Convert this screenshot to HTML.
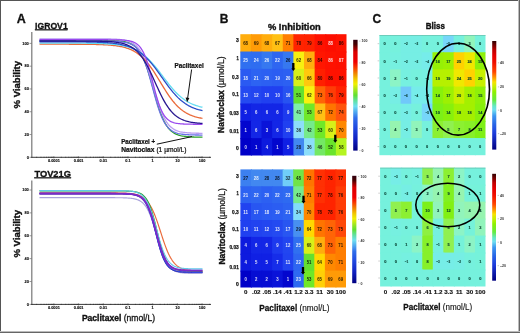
<!DOCTYPE html>
<html><head><meta charset="utf-8"><title>Figure</title>
<style>html,body{margin:0;padding:0;background:#fff;}svg{display:block;}</style></head>
<body><svg width="520" height="333" viewBox="0 0 520 333">
<defs><linearGradient id="cbB1" x1="0" y1="0" x2="0" y2="1"><stop offset="0.000" stop-color="#300010"/><stop offset="0.040" stop-color="#460000"/><stop offset="0.065" stop-color="#800000"/><stop offset="0.110" stop-color="#dc0000"/><stop offset="0.200" stop-color="#f00000"/><stop offset="0.255" stop-color="#f84000"/><stop offset="0.300" stop-color="#f08000"/><stop offset="0.354" stop-color="#f0c800"/><stop offset="0.399" stop-color="#f0f000"/><stop offset="0.453" stop-color="#a0e620"/><stop offset="0.500" stop-color="#60e030"/><stop offset="0.550" stop-color="#60e0a0"/><stop offset="0.600" stop-color="#6ee0f0"/><stop offset="0.650" stop-color="#50aaf0"/><stop offset="0.705" stop-color="#306eeb"/><stop offset="0.795" stop-color="#2048e0"/><stop offset="0.900" stop-color="#1020c0"/><stop offset="1.000" stop-color="#000080"/></linearGradient>
<linearGradient id="cbB2" x1="0" y1="0" x2="0" y2="1"><stop offset="0.000" stop-color="#300010"/><stop offset="0.040" stop-color="#460000"/><stop offset="0.065" stop-color="#800000"/><stop offset="0.110" stop-color="#dc0000"/><stop offset="0.200" stop-color="#f00000"/><stop offset="0.255" stop-color="#f84000"/><stop offset="0.300" stop-color="#f08000"/><stop offset="0.354" stop-color="#f0c800"/><stop offset="0.399" stop-color="#f0f000"/><stop offset="0.453" stop-color="#a0e620"/><stop offset="0.500" stop-color="#60e030"/><stop offset="0.550" stop-color="#60e0a0"/><stop offset="0.600" stop-color="#6ee0f0"/><stop offset="0.650" stop-color="#50aaf0"/><stop offset="0.705" stop-color="#306eeb"/><stop offset="0.795" stop-color="#2048e0"/><stop offset="0.900" stop-color="#1020c0"/><stop offset="1.000" stop-color="#000080"/></linearGradient>
<linearGradient id="cbC1" x1="0" y1="0" x2="0" y2="1"><stop offset="0.000" stop-color="#300000"/><stop offset="0.037" stop-color="#700000"/><stop offset="0.083" stop-color="#c00000"/><stop offset="0.138" stop-color="#e60000"/><stop offset="0.200" stop-color="#f01000"/><stop offset="0.285" stop-color="#ff4600"/><stop offset="0.330" stop-color="#ff8c00"/><stop offset="0.378" stop-color="#f8e000"/><stop offset="0.420" stop-color="#c8f000"/><stop offset="0.470" stop-color="#8cf000"/><stop offset="0.545" stop-color="#64eb40"/><stop offset="0.600" stop-color="#64e8c8"/><stop offset="0.635" stop-color="#6edef0"/><stop offset="0.690" stop-color="#3c96f0"/><stop offset="0.770" stop-color="#2864e6"/><stop offset="0.850" stop-color="#1e3cdc"/><stop offset="1.000" stop-color="#000080"/></linearGradient>
<linearGradient id="cbC2" x1="0" y1="0" x2="0" y2="1"><stop offset="0.000" stop-color="#300000"/><stop offset="0.037" stop-color="#700000"/><stop offset="0.083" stop-color="#c00000"/><stop offset="0.138" stop-color="#e60000"/><stop offset="0.200" stop-color="#f01000"/><stop offset="0.285" stop-color="#ff4600"/><stop offset="0.330" stop-color="#ff8c00"/><stop offset="0.378" stop-color="#f8e000"/><stop offset="0.420" stop-color="#c8f000"/><stop offset="0.470" stop-color="#8cf000"/><stop offset="0.545" stop-color="#64eb40"/><stop offset="0.600" stop-color="#64e8c8"/><stop offset="0.635" stop-color="#6edef0"/><stop offset="0.690" stop-color="#3c96f0"/><stop offset="0.770" stop-color="#2864e6"/><stop offset="0.850" stop-color="#1e3cdc"/><stop offset="1.000" stop-color="#000080"/></linearGradient></defs>
<rect width="520" height="333" fill="#fff"/>
<g font-family="&quot;Liberation Sans&quot;, Arial, sans-serif" font-size="4.9" font-weight="bold" text-anchor="middle">
<rect x="240.30" y="34.20" width="11.62" height="18.33" fill="#ffad0d"/>
<rect x="250.92" y="34.20" width="11.62" height="18.33" fill="#ff9b07"/>
<rect x="261.54" y="34.20" width="11.62" height="18.33" fill="#ffad0d"/>
<rect x="272.16" y="34.20" width="11.62" height="18.33" fill="#ffc014"/>
<rect x="282.78" y="34.20" width="11.62" height="18.33" fill="#ff7e00"/>
<rect x="293.40" y="34.20" width="11.62" height="18.33" fill="#ff2400"/>
<rect x="304.02" y="34.20" width="11.62" height="18.33" fill="#ff2200"/>
<rect x="314.64" y="34.20" width="11.62" height="18.33" fill="#fe1200"/>
<rect x="325.26" y="34.20" width="11.62" height="18.33" fill="#fc0e00"/>
<rect x="335.88" y="34.20" width="10.62" height="18.33" fill="#fe1200"/>
<rect x="240.30" y="51.53" width="11.62" height="18.33" fill="#3070f0"/>
<rect x="250.92" y="51.53" width="11.62" height="18.33" fill="#2f6df0"/>
<rect x="261.54" y="51.53" width="11.62" height="18.33" fill="#3678f0"/>
<rect x="272.16" y="51.53" width="11.62" height="18.33" fill="#2e66f1"/>
<rect x="282.78" y="51.53" width="11.62" height="18.33" fill="#3678f0"/>
<rect x="293.40" y="51.53" width="11.62" height="18.33" fill="#f8f010"/>
<rect x="304.02" y="51.53" width="11.62" height="18.33" fill="#ffad0d"/>
<rect x="314.64" y="51.53" width="11.62" height="18.33" fill="#ff1600"/>
<rect x="325.26" y="51.53" width="11.62" height="18.33" fill="#fe1200"/>
<rect x="335.88" y="51.53" width="10.62" height="18.33" fill="#fd1000"/>
<rect x="240.30" y="68.86" width="11.62" height="18.33" fill="#2a5af2"/>
<rect x="250.92" y="68.86" width="11.62" height="18.33" fill="#2d63f2"/>
<rect x="261.54" y="68.86" width="11.62" height="18.33" fill="#2c60f2"/>
<rect x="272.16" y="68.86" width="11.62" height="18.33" fill="#2b5df2"/>
<rect x="282.78" y="68.86" width="11.62" height="18.33" fill="#2c60f2"/>
<rect x="293.40" y="68.86" width="11.62" height="18.33" fill="#d8f018"/>
<rect x="304.02" y="68.86" width="11.62" height="18.33" fill="#ffc80d"/>
<rect x="314.64" y="68.86" width="11.62" height="18.33" fill="#ff1f00"/>
<rect x="325.26" y="68.86" width="11.62" height="18.33" fill="#fe1200"/>
<rect x="335.88" y="68.86" width="10.62" height="18.33" fill="#fe1200"/>
<rect x="240.30" y="86.19" width="11.62" height="18.33" fill="#244af1"/>
<rect x="250.92" y="86.19" width="11.62" height="18.33" fill="#2246f0"/>
<rect x="261.54" y="86.19" width="11.62" height="18.33" fill="#2040f0"/>
<rect x="272.16" y="86.19" width="11.62" height="18.33" fill="#2040f0"/>
<rect x="282.78" y="86.19" width="11.62" height="18.33" fill="#2753f1"/>
<rect x="293.40" y="86.19" width="11.62" height="18.33" fill="#64e030"/>
<rect x="304.02" y="86.19" width="11.62" height="18.33" fill="#f8f010"/>
<rect x="314.64" y="86.19" width="11.62" height="18.33" fill="#ff6406"/>
<rect x="325.26" y="86.19" width="11.62" height="18.33" fill="#ff3c06"/>
<rect x="335.88" y="86.19" width="10.62" height="18.33" fill="#ff2200"/>
<rect x="240.30" y="103.51" width="11.62" height="18.33" fill="#1020e4"/>
<rect x="250.92" y="103.51" width="11.62" height="18.33" fill="#1326e6"/>
<rect x="261.54" y="103.51" width="11.62" height="18.33" fill="#1326e6"/>
<rect x="272.16" y="103.51" width="11.62" height="18.33" fill="#1326e6"/>
<rect x="282.78" y="103.51" width="11.62" height="18.33" fill="#1d3aee"/>
<rect x="293.40" y="103.51" width="11.62" height="18.33" fill="#7eeeaa"/>
<rect x="304.02" y="103.51" width="11.62" height="18.33" fill="#70e828"/>
<rect x="314.64" y="103.51" width="11.62" height="18.33" fill="#ffc014"/>
<rect x="325.26" y="103.51" width="11.62" height="18.33" fill="#ff7400"/>
<rect x="335.88" y="103.51" width="10.62" height="18.33" fill="#ff540c"/>
<rect x="240.30" y="120.84" width="11.62" height="18.33" fill="#0306ce"/>
<rect x="250.92" y="120.84" width="11.62" height="18.33" fill="#1326e6"/>
<rect x="261.54" y="120.84" width="11.62" height="18.33" fill="#0a13d9"/>
<rect x="272.16" y="120.84" width="11.62" height="18.33" fill="#1326e6"/>
<rect x="282.78" y="120.84" width="11.62" height="18.33" fill="#2040f0"/>
<rect x="293.40" y="120.84" width="11.62" height="18.33" fill="#8cdefa"/>
<rect x="304.02" y="120.84" width="11.62" height="18.33" fill="#76ea8c"/>
<rect x="314.64" y="120.84" width="11.62" height="18.33" fill="#70e828"/>
<rect x="325.26" y="120.84" width="11.62" height="18.33" fill="#d8f018"/>
<rect x="335.88" y="120.84" width="10.62" height="18.33" fill="#ff8800"/>
<rect x="240.30" y="138.17" width="11.62" height="17.33" fill="#0000c8"/>
<rect x="250.92" y="138.17" width="11.62" height="17.33" fill="#0306ce"/>
<rect x="261.54" y="138.17" width="11.62" height="17.33" fill="#0d1ade"/>
<rect x="272.16" y="138.17" width="11.62" height="17.33" fill="#0306ce"/>
<rect x="282.78" y="138.17" width="11.62" height="17.33" fill="#1020e4"/>
<rect x="293.40" y="138.17" width="11.62" height="17.33" fill="#4288f0"/>
<rect x="304.02" y="138.17" width="11.62" height="17.33" fill="#8cdefa"/>
<rect x="314.64" y="138.17" width="11.62" height="17.33" fill="#74e864"/>
<rect x="325.26" y="138.17" width="11.62" height="17.33" fill="#6ae42c"/>
<rect x="335.88" y="138.17" width="10.62" height="17.33" fill="#b4f420"/>
<text x="245.61" y="44.91" fill="#000" fill-opacity="0.82" textLength="4.80" lengthAdjust="spacingAndGlyphs">68</text>
<text x="256.23" y="44.91" fill="#000" fill-opacity="0.82" textLength="4.80" lengthAdjust="spacingAndGlyphs">69</text>
<text x="266.85" y="44.91" fill="#000" fill-opacity="0.82" textLength="4.80" lengthAdjust="spacingAndGlyphs">68</text>
<text x="277.47" y="44.91" fill="#000" fill-opacity="0.82" textLength="4.80" lengthAdjust="spacingAndGlyphs">67</text>
<text x="288.09" y="44.91" fill="#000" fill-opacity="0.82" textLength="4.80" lengthAdjust="spacingAndGlyphs">71</text>
<text x="298.71" y="44.91" fill="#000" fill-opacity="0.82" textLength="4.80" lengthAdjust="spacingAndGlyphs">78</text>
<text x="309.33" y="44.91" fill="#000" fill-opacity="0.82" textLength="4.80" lengthAdjust="spacingAndGlyphs">79</text>
<text x="319.95" y="44.91" fill="#000" fill-opacity="0.82" textLength="4.80" lengthAdjust="spacingAndGlyphs">86</text>
<text x="330.57" y="44.91" fill="#fff" fill-opacity="0.85" textLength="4.80" lengthAdjust="spacingAndGlyphs">88</text>
<text x="341.19" y="44.91" fill="#000" fill-opacity="0.82" textLength="4.80" lengthAdjust="spacingAndGlyphs">86</text>
<text x="245.61" y="62.24" fill="#fff" fill-opacity="0.85" textLength="4.80" lengthAdjust="spacingAndGlyphs">25</text>
<text x="256.23" y="62.24" fill="#fff" fill-opacity="0.85" textLength="4.80" lengthAdjust="spacingAndGlyphs">24</text>
<text x="266.85" y="62.24" fill="#fff" fill-opacity="0.85" textLength="4.80" lengthAdjust="spacingAndGlyphs">26</text>
<text x="277.47" y="62.24" fill="#fff" fill-opacity="0.85" textLength="4.80" lengthAdjust="spacingAndGlyphs">22</text>
<text x="288.09" y="62.24" fill="#000" fill-opacity="0.82" textLength="4.80" lengthAdjust="spacingAndGlyphs">26</text>
<text x="298.71" y="62.24" fill="#000" fill-opacity="0.82" textLength="4.80" lengthAdjust="spacingAndGlyphs">62</text>
<text x="309.33" y="62.24" fill="#000" fill-opacity="0.82" textLength="4.80" lengthAdjust="spacingAndGlyphs">68</text>
<text x="319.95" y="62.24" fill="#000" fill-opacity="0.82" textLength="4.80" lengthAdjust="spacingAndGlyphs">84</text>
<text x="330.57" y="62.24" fill="#fff" fill-opacity="0.85" textLength="4.80" lengthAdjust="spacingAndGlyphs">86</text>
<text x="341.19" y="62.24" fill="#fff" fill-opacity="0.85" textLength="4.80" lengthAdjust="spacingAndGlyphs">87</text>
<text x="245.61" y="79.57" fill="#fff" fill-opacity="0.85" textLength="4.80" lengthAdjust="spacingAndGlyphs">18</text>
<text x="256.23" y="79.57" fill="#fff" fill-opacity="0.85" textLength="4.80" lengthAdjust="spacingAndGlyphs">21</text>
<text x="266.85" y="79.57" fill="#fff" fill-opacity="0.85" textLength="4.80" lengthAdjust="spacingAndGlyphs">20</text>
<text x="277.47" y="79.57" fill="#fff" fill-opacity="0.85" textLength="4.80" lengthAdjust="spacingAndGlyphs">19</text>
<text x="288.09" y="79.57" fill="#fff" fill-opacity="0.85" textLength="4.80" lengthAdjust="spacingAndGlyphs">20</text>
<text x="298.71" y="79.57" fill="#000" fill-opacity="0.82" textLength="4.80" lengthAdjust="spacingAndGlyphs">60</text>
<text x="309.33" y="79.57" fill="#000" fill-opacity="0.82" textLength="4.80" lengthAdjust="spacingAndGlyphs">66</text>
<text x="319.95" y="79.57" fill="#000" fill-opacity="0.82" textLength="4.80" lengthAdjust="spacingAndGlyphs">80</text>
<text x="330.57" y="79.57" fill="#000" fill-opacity="0.82" textLength="4.80" lengthAdjust="spacingAndGlyphs">86</text>
<text x="341.19" y="79.57" fill="#000" fill-opacity="0.82" textLength="4.80" lengthAdjust="spacingAndGlyphs">86</text>
<text x="245.61" y="96.90" fill="#fff" fill-opacity="0.85" textLength="4.80" lengthAdjust="spacingAndGlyphs">13</text>
<text x="256.23" y="96.90" fill="#fff" fill-opacity="0.85" textLength="4.80" lengthAdjust="spacingAndGlyphs">12</text>
<text x="266.85" y="96.90" fill="#fff" fill-opacity="0.85" textLength="4.80" lengthAdjust="spacingAndGlyphs">10</text>
<text x="277.47" y="96.90" fill="#fff" fill-opacity="0.85" textLength="4.80" lengthAdjust="spacingAndGlyphs">10</text>
<text x="288.09" y="96.90" fill="#fff" fill-opacity="0.85" textLength="4.80" lengthAdjust="spacingAndGlyphs">16</text>
<text x="298.71" y="96.90" fill="#000" fill-opacity="0.82" textLength="4.80" lengthAdjust="spacingAndGlyphs">51</text>
<text x="309.33" y="96.90" fill="#000" fill-opacity="0.82" textLength="4.80" lengthAdjust="spacingAndGlyphs">62</text>
<text x="319.95" y="96.90" fill="#000" fill-opacity="0.82" textLength="4.80" lengthAdjust="spacingAndGlyphs">73</text>
<text x="330.57" y="96.90" fill="#000" fill-opacity="0.82" textLength="4.80" lengthAdjust="spacingAndGlyphs">76</text>
<text x="341.19" y="96.90" fill="#000" fill-opacity="0.82" textLength="4.80" lengthAdjust="spacingAndGlyphs">79</text>
<text x="245.61" y="114.23" fill="#fff" fill-opacity="0.85" textLength="2.40" lengthAdjust="spacingAndGlyphs">5</text>
<text x="256.23" y="114.23" fill="#fff" fill-opacity="0.85" textLength="2.40" lengthAdjust="spacingAndGlyphs">6</text>
<text x="266.85" y="114.23" fill="#fff" fill-opacity="0.85" textLength="2.40" lengthAdjust="spacingAndGlyphs">6</text>
<text x="277.47" y="114.23" fill="#fff" fill-opacity="0.85" textLength="2.40" lengthAdjust="spacingAndGlyphs">6</text>
<text x="288.09" y="114.23" fill="#fff" fill-opacity="0.85" textLength="2.40" lengthAdjust="spacingAndGlyphs">9</text>
<text x="298.71" y="114.23" fill="#000" fill-opacity="0.82" textLength="4.80" lengthAdjust="spacingAndGlyphs">41</text>
<text x="309.33" y="114.23" fill="#000" fill-opacity="0.82" textLength="4.80" lengthAdjust="spacingAndGlyphs">53</text>
<text x="319.95" y="114.23" fill="#000" fill-opacity="0.82" textLength="4.80" lengthAdjust="spacingAndGlyphs">67</text>
<text x="330.57" y="114.23" fill="#000" fill-opacity="0.82" textLength="4.80" lengthAdjust="spacingAndGlyphs">72</text>
<text x="341.19" y="114.23" fill="#000" fill-opacity="0.82" textLength="4.80" lengthAdjust="spacingAndGlyphs">74</text>
<text x="245.61" y="131.56" fill="#fff" fill-opacity="0.85" textLength="2.40" lengthAdjust="spacingAndGlyphs">1</text>
<text x="256.23" y="131.56" fill="#fff" fill-opacity="0.85" textLength="2.40" lengthAdjust="spacingAndGlyphs">6</text>
<text x="266.85" y="131.56" fill="#fff" fill-opacity="0.85" textLength="2.40" lengthAdjust="spacingAndGlyphs">3</text>
<text x="277.47" y="131.56" fill="#fff" fill-opacity="0.85" textLength="2.40" lengthAdjust="spacingAndGlyphs">6</text>
<text x="288.09" y="131.56" fill="#fff" fill-opacity="0.85" textLength="4.80" lengthAdjust="spacingAndGlyphs">10</text>
<text x="298.71" y="131.56" fill="#000" fill-opacity="0.82" textLength="4.80" lengthAdjust="spacingAndGlyphs">36</text>
<text x="309.33" y="131.56" fill="#000" fill-opacity="0.82" textLength="4.80" lengthAdjust="spacingAndGlyphs">42</text>
<text x="319.95" y="131.56" fill="#000" fill-opacity="0.82" textLength="4.80" lengthAdjust="spacingAndGlyphs">53</text>
<text x="330.57" y="131.56" fill="#000" fill-opacity="0.82" textLength="4.80" lengthAdjust="spacingAndGlyphs">60</text>
<text x="341.19" y="131.56" fill="#000" fill-opacity="0.82" textLength="4.80" lengthAdjust="spacingAndGlyphs">70</text>
<text x="245.61" y="148.89" fill="#fff" fill-opacity="0.85" textLength="2.40" lengthAdjust="spacingAndGlyphs">0</text>
<text x="256.23" y="148.89" fill="#fff" fill-opacity="0.85" textLength="2.40" lengthAdjust="spacingAndGlyphs">1</text>
<text x="266.85" y="148.89" fill="#fff" fill-opacity="0.85" textLength="2.40" lengthAdjust="spacingAndGlyphs">4</text>
<text x="277.47" y="148.89" fill="#fff" fill-opacity="0.85" textLength="2.40" lengthAdjust="spacingAndGlyphs">1</text>
<text x="288.09" y="148.89" fill="#fff" fill-opacity="0.85" textLength="2.40" lengthAdjust="spacingAndGlyphs">5</text>
<text x="298.71" y="148.89" fill="#000" fill-opacity="0.82" textLength="4.80" lengthAdjust="spacingAndGlyphs">28</text>
<text x="309.33" y="148.89" fill="#000" fill-opacity="0.82" textLength="4.80" lengthAdjust="spacingAndGlyphs">36</text>
<text x="319.95" y="148.89" fill="#000" fill-opacity="0.82" textLength="4.80" lengthAdjust="spacingAndGlyphs">46</text>
<text x="330.57" y="148.89" fill="#000" fill-opacity="0.82" textLength="4.80" lengthAdjust="spacingAndGlyphs">52</text>
<text x="341.19" y="148.89" fill="#000" fill-opacity="0.82" textLength="4.80" lengthAdjust="spacingAndGlyphs">58</text>
</g>
<g font-family="&quot;Liberation Sans&quot;, Arial, sans-serif" font-size="4.9" font-weight="bold" text-anchor="middle">
<rect x="240.40" y="169.40" width="11.56" height="17.87" fill="#3c80f0"/>
<rect x="250.96" y="169.40" width="11.56" height="17.87" fill="#4288f0"/>
<rect x="261.52" y="169.40" width="11.56" height="17.87" fill="#4288f0"/>
<rect x="272.08" y="169.40" width="11.56" height="17.87" fill="#4288f0"/>
<rect x="282.64" y="169.40" width="11.56" height="17.87" fill="#70cdf8"/>
<rect x="293.20" y="169.40" width="11.56" height="17.87" fill="#70e448"/>
<rect x="303.76" y="169.40" width="11.56" height="17.87" fill="#ff7400"/>
<rect x="314.32" y="169.40" width="11.56" height="17.87" fill="#ff3003"/>
<rect x="324.88" y="169.40" width="11.56" height="17.87" fill="#ff2400"/>
<rect x="335.44" y="169.40" width="10.56" height="17.87" fill="#ff3003"/>
<rect x="240.40" y="186.27" width="11.56" height="17.87" fill="#2d63f2"/>
<rect x="250.96" y="186.27" width="11.56" height="17.87" fill="#2e66f1"/>
<rect x="261.52" y="186.27" width="11.56" height="17.87" fill="#2c60f2"/>
<rect x="272.08" y="186.27" width="11.56" height="17.87" fill="#2e66f1"/>
<rect x="282.64" y="186.27" width="11.56" height="17.87" fill="#2e6af1"/>
<rect x="293.20" y="186.27" width="11.56" height="17.87" fill="#76ea8c"/>
<rect x="303.76" y="186.27" width="11.56" height="17.87" fill="#ff7e00"/>
<rect x="314.32" y="186.27" width="11.56" height="17.87" fill="#ff3003"/>
<rect x="324.88" y="186.27" width="11.56" height="17.87" fill="#ff2400"/>
<rect x="335.44" y="186.27" width="10.56" height="17.87" fill="#ff3c06"/>
<rect x="240.40" y="203.14" width="11.56" height="17.87" fill="#2143f0"/>
<rect x="250.96" y="203.14" width="11.56" height="17.87" fill="#2856f1"/>
<rect x="261.52" y="203.14" width="11.56" height="17.87" fill="#2a5af2"/>
<rect x="272.08" y="203.14" width="11.56" height="17.87" fill="#2b5df2"/>
<rect x="282.64" y="203.14" width="11.56" height="17.87" fill="#2d63f2"/>
<rect x="293.20" y="203.14" width="11.56" height="17.87" fill="#82dcfa"/>
<rect x="303.76" y="203.14" width="11.56" height="17.87" fill="#ff8800"/>
<rect x="314.32" y="203.14" width="11.56" height="17.87" fill="#ff2400"/>
<rect x="324.88" y="203.14" width="11.56" height="17.87" fill="#ff2400"/>
<rect x="335.44" y="203.14" width="10.56" height="17.87" fill="#ff3c06"/>
<rect x="240.40" y="220.01" width="11.56" height="17.87" fill="#2040f0"/>
<rect x="250.96" y="220.01" width="11.56" height="17.87" fill="#2143f0"/>
<rect x="261.52" y="220.01" width="11.56" height="17.87" fill="#2246f0"/>
<rect x="272.08" y="220.01" width="11.56" height="17.87" fill="#244af1"/>
<rect x="282.64" y="220.01" width="11.56" height="17.87" fill="#2856f1"/>
<rect x="293.20" y="220.01" width="11.56" height="17.87" fill="#4890f0"/>
<rect x="303.76" y="220.01" width="11.56" height="17.87" fill="#ffd800"/>
<rect x="314.32" y="220.01" width="11.56" height="17.87" fill="#ff7400"/>
<rect x="324.88" y="220.01" width="11.56" height="17.87" fill="#ff6406"/>
<rect x="335.44" y="220.01" width="10.56" height="17.87" fill="#ff4809"/>
<rect x="240.40" y="236.89" width="11.56" height="17.87" fill="#0d1ade"/>
<rect x="250.96" y="236.89" width="11.56" height="17.87" fill="#1326e6"/>
<rect x="261.52" y="236.89" width="11.56" height="17.87" fill="#1326e6"/>
<rect x="272.08" y="236.89" width="11.56" height="17.87" fill="#1d3aee"/>
<rect x="282.64" y="236.89" width="11.56" height="17.87" fill="#2246f0"/>
<rect x="293.20" y="236.89" width="11.56" height="17.87" fill="#3070f0"/>
<rect x="303.76" y="236.89" width="11.56" height="17.87" fill="#d8f018"/>
<rect x="314.32" y="236.89" width="11.56" height="17.87" fill="#ffad0d"/>
<rect x="324.88" y="236.89" width="11.56" height="17.87" fill="#ff6406"/>
<rect x="335.44" y="236.89" width="10.56" height="17.87" fill="#ff7e00"/>
<rect x="240.40" y="253.76" width="11.56" height="17.87" fill="#0d1ade"/>
<rect x="250.96" y="253.76" width="11.56" height="17.87" fill="#1020e4"/>
<rect x="261.52" y="253.76" width="11.56" height="17.87" fill="#1020e4"/>
<rect x="272.08" y="253.76" width="11.56" height="17.87" fill="#162de9"/>
<rect x="282.64" y="253.76" width="11.56" height="17.87" fill="#2143f0"/>
<rect x="293.20" y="253.76" width="11.56" height="17.87" fill="#2e66f1"/>
<rect x="303.76" y="253.76" width="11.56" height="17.87" fill="#64e030"/>
<rect x="314.32" y="253.76" width="11.56" height="17.87" fill="#ffd800"/>
<rect x="324.88" y="253.76" width="11.56" height="17.87" fill="#ff8800"/>
<rect x="335.44" y="253.76" width="10.56" height="17.87" fill="#ff7e00"/>
<rect x="240.40" y="270.63" width="11.56" height="16.87" fill="#0000c8"/>
<rect x="250.96" y="270.63" width="11.56" height="16.87" fill="#060dd3"/>
<rect x="261.52" y="270.63" width="11.56" height="16.87" fill="#060dd3"/>
<rect x="272.08" y="270.63" width="11.56" height="16.87" fill="#0a13d9"/>
<rect x="282.64" y="270.63" width="11.56" height="16.87" fill="#0306ce"/>
<rect x="293.20" y="270.63" width="11.56" height="16.87" fill="#2e6af1"/>
<rect x="303.76" y="270.63" width="11.56" height="16.87" fill="#70e828"/>
<rect x="314.32" y="270.63" width="11.56" height="16.87" fill="#ffd007"/>
<rect x="324.88" y="270.63" width="11.56" height="16.87" fill="#ff9b07"/>
<rect x="335.44" y="270.63" width="10.56" height="16.87" fill="#ff9b07"/>
<text x="245.68" y="179.89" fill="#000" fill-opacity="0.82" textLength="4.80" lengthAdjust="spacingAndGlyphs">27</text>
<text x="256.24" y="179.89" fill="#fff" fill-opacity="0.85" textLength="4.80" lengthAdjust="spacingAndGlyphs">28</text>
<text x="266.80" y="179.89" fill="#000" fill-opacity="0.82" textLength="4.80" lengthAdjust="spacingAndGlyphs">28</text>
<text x="277.36" y="179.89" fill="#000" fill-opacity="0.82" textLength="4.80" lengthAdjust="spacingAndGlyphs">28</text>
<text x="287.92" y="179.89" fill="#000" fill-opacity="0.82" textLength="4.80" lengthAdjust="spacingAndGlyphs">32</text>
<text x="298.48" y="179.89" fill="#000" fill-opacity="0.82" textLength="4.80" lengthAdjust="spacingAndGlyphs">48</text>
<text x="309.04" y="179.89" fill="#000" fill-opacity="0.82" textLength="4.80" lengthAdjust="spacingAndGlyphs">72</text>
<text x="319.60" y="179.89" fill="#000" fill-opacity="0.82" textLength="4.80" lengthAdjust="spacingAndGlyphs">77</text>
<text x="330.16" y="179.89" fill="#000" fill-opacity="0.82" textLength="4.80" lengthAdjust="spacingAndGlyphs">78</text>
<text x="340.72" y="179.89" fill="#000" fill-opacity="0.82" textLength="4.80" lengthAdjust="spacingAndGlyphs">77</text>
<text x="245.68" y="196.76" fill="#fff" fill-opacity="0.85" textLength="4.80" lengthAdjust="spacingAndGlyphs">21</text>
<text x="256.24" y="196.76" fill="#fff" fill-opacity="0.85" textLength="4.80" lengthAdjust="spacingAndGlyphs">22</text>
<text x="266.80" y="196.76" fill="#fff" fill-opacity="0.85" textLength="4.80" lengthAdjust="spacingAndGlyphs">20</text>
<text x="277.36" y="196.76" fill="#fff" fill-opacity="0.85" textLength="4.80" lengthAdjust="spacingAndGlyphs">22</text>
<text x="287.92" y="196.76" fill="#fff" fill-opacity="0.85" textLength="4.80" lengthAdjust="spacingAndGlyphs">23</text>
<text x="298.48" y="196.76" fill="#000" fill-opacity="0.82" textLength="4.80" lengthAdjust="spacingAndGlyphs">42</text>
<text x="309.04" y="196.76" fill="#000" fill-opacity="0.82" textLength="4.80" lengthAdjust="spacingAndGlyphs">71</text>
<text x="319.60" y="196.76" fill="#000" fill-opacity="0.82" textLength="4.80" lengthAdjust="spacingAndGlyphs">77</text>
<text x="330.16" y="196.76" fill="#000" fill-opacity="0.82" textLength="4.80" lengthAdjust="spacingAndGlyphs">78</text>
<text x="340.72" y="196.76" fill="#000" fill-opacity="0.82" textLength="4.80" lengthAdjust="spacingAndGlyphs">76</text>
<text x="245.68" y="213.63" fill="#fff" fill-opacity="0.85" textLength="4.80" lengthAdjust="spacingAndGlyphs">11</text>
<text x="256.24" y="213.63" fill="#fff" fill-opacity="0.85" textLength="4.80" lengthAdjust="spacingAndGlyphs">17</text>
<text x="266.80" y="213.63" fill="#fff" fill-opacity="0.85" textLength="4.80" lengthAdjust="spacingAndGlyphs">18</text>
<text x="277.36" y="213.63" fill="#fff" fill-opacity="0.85" textLength="4.80" lengthAdjust="spacingAndGlyphs">19</text>
<text x="287.92" y="213.63" fill="#fff" fill-opacity="0.85" textLength="4.80" lengthAdjust="spacingAndGlyphs">21</text>
<text x="298.48" y="213.63" fill="#000" fill-opacity="0.82" textLength="4.80" lengthAdjust="spacingAndGlyphs">34</text>
<text x="309.04" y="213.63" fill="#000" fill-opacity="0.82" textLength="4.80" lengthAdjust="spacingAndGlyphs">70</text>
<text x="319.60" y="213.63" fill="#000" fill-opacity="0.82" textLength="4.80" lengthAdjust="spacingAndGlyphs">78</text>
<text x="330.16" y="213.63" fill="#000" fill-opacity="0.82" textLength="4.80" lengthAdjust="spacingAndGlyphs">78</text>
<text x="340.72" y="213.63" fill="#000" fill-opacity="0.82" textLength="4.80" lengthAdjust="spacingAndGlyphs">76</text>
<text x="245.68" y="230.50" fill="#fff" fill-opacity="0.85" textLength="4.80" lengthAdjust="spacingAndGlyphs">10</text>
<text x="256.24" y="230.50" fill="#fff" fill-opacity="0.85" textLength="4.80" lengthAdjust="spacingAndGlyphs">11</text>
<text x="266.80" y="230.50" fill="#fff" fill-opacity="0.85" textLength="4.80" lengthAdjust="spacingAndGlyphs">12</text>
<text x="277.36" y="230.50" fill="#fff" fill-opacity="0.85" textLength="4.80" lengthAdjust="spacingAndGlyphs">13</text>
<text x="287.92" y="230.50" fill="#fff" fill-opacity="0.85" textLength="4.80" lengthAdjust="spacingAndGlyphs">17</text>
<text x="298.48" y="230.50" fill="#000" fill-opacity="0.82" textLength="4.80" lengthAdjust="spacingAndGlyphs">29</text>
<text x="309.04" y="230.50" fill="#000" fill-opacity="0.82" textLength="4.80" lengthAdjust="spacingAndGlyphs">64</text>
<text x="319.60" y="230.50" fill="#000" fill-opacity="0.82" textLength="4.80" lengthAdjust="spacingAndGlyphs">72</text>
<text x="330.16" y="230.50" fill="#000" fill-opacity="0.82" textLength="4.80" lengthAdjust="spacingAndGlyphs">73</text>
<text x="340.72" y="230.50" fill="#000" fill-opacity="0.82" textLength="4.80" lengthAdjust="spacingAndGlyphs">75</text>
<text x="245.68" y="247.37" fill="#fff" fill-opacity="0.85" textLength="2.40" lengthAdjust="spacingAndGlyphs">4</text>
<text x="256.24" y="247.37" fill="#fff" fill-opacity="0.85" textLength="2.40" lengthAdjust="spacingAndGlyphs">6</text>
<text x="266.80" y="247.37" fill="#fff" fill-opacity="0.85" textLength="2.40" lengthAdjust="spacingAndGlyphs">6</text>
<text x="277.36" y="247.37" fill="#fff" fill-opacity="0.85" textLength="2.40" lengthAdjust="spacingAndGlyphs">9</text>
<text x="287.92" y="247.37" fill="#fff" fill-opacity="0.85" textLength="4.80" lengthAdjust="spacingAndGlyphs">12</text>
<text x="298.48" y="247.37" fill="#fff" fill-opacity="0.85" textLength="4.80" lengthAdjust="spacingAndGlyphs">25</text>
<text x="309.04" y="247.37" fill="#000" fill-opacity="0.82" textLength="4.80" lengthAdjust="spacingAndGlyphs">60</text>
<text x="319.60" y="247.37" fill="#000" fill-opacity="0.82" textLength="4.80" lengthAdjust="spacingAndGlyphs">68</text>
<text x="330.16" y="247.37" fill="#000" fill-opacity="0.82" textLength="4.80" lengthAdjust="spacingAndGlyphs">73</text>
<text x="340.72" y="247.37" fill="#000" fill-opacity="0.82" textLength="4.80" lengthAdjust="spacingAndGlyphs">71</text>
<text x="245.68" y="264.24" fill="#fff" fill-opacity="0.85" textLength="2.40" lengthAdjust="spacingAndGlyphs">4</text>
<text x="256.24" y="264.24" fill="#fff" fill-opacity="0.85" textLength="2.40" lengthAdjust="spacingAndGlyphs">5</text>
<text x="266.80" y="264.24" fill="#fff" fill-opacity="0.85" textLength="2.40" lengthAdjust="spacingAndGlyphs">5</text>
<text x="277.36" y="264.24" fill="#fff" fill-opacity="0.85" textLength="2.40" lengthAdjust="spacingAndGlyphs">7</text>
<text x="287.92" y="264.24" fill="#fff" fill-opacity="0.85" textLength="4.80" lengthAdjust="spacingAndGlyphs">11</text>
<text x="298.48" y="264.24" fill="#fff" fill-opacity="0.85" textLength="4.80" lengthAdjust="spacingAndGlyphs">22</text>
<text x="309.04" y="264.24" fill="#000" fill-opacity="0.82" textLength="4.80" lengthAdjust="spacingAndGlyphs">51</text>
<text x="319.60" y="264.24" fill="#000" fill-opacity="0.82" textLength="4.80" lengthAdjust="spacingAndGlyphs">64</text>
<text x="330.16" y="264.24" fill="#000" fill-opacity="0.82" textLength="4.80" lengthAdjust="spacingAndGlyphs">70</text>
<text x="340.72" y="264.24" fill="#000" fill-opacity="0.82" textLength="4.80" lengthAdjust="spacingAndGlyphs">71</text>
<text x="245.68" y="281.11" fill="#fff" fill-opacity="0.85" textLength="2.40" lengthAdjust="spacingAndGlyphs">0</text>
<text x="256.24" y="281.11" fill="#fff" fill-opacity="0.85" textLength="2.40" lengthAdjust="spacingAndGlyphs">2</text>
<text x="266.80" y="281.11" fill="#fff" fill-opacity="0.85" textLength="2.40" lengthAdjust="spacingAndGlyphs">2</text>
<text x="277.36" y="281.11" fill="#fff" fill-opacity="0.85" textLength="2.40" lengthAdjust="spacingAndGlyphs">3</text>
<text x="287.92" y="281.11" fill="#fff" fill-opacity="0.85" textLength="2.40" lengthAdjust="spacingAndGlyphs">1</text>
<text x="298.48" y="281.11" fill="#fff" fill-opacity="0.85" textLength="4.80" lengthAdjust="spacingAndGlyphs">23</text>
<text x="309.04" y="281.11" fill="#000" fill-opacity="0.82" textLength="4.80" lengthAdjust="spacingAndGlyphs">53</text>
<text x="319.60" y="281.11" fill="#000" fill-opacity="0.82" textLength="4.80" lengthAdjust="spacingAndGlyphs">65</text>
<text x="330.16" y="281.11" fill="#000" fill-opacity="0.82" textLength="4.80" lengthAdjust="spacingAndGlyphs">69</text>
<text x="340.72" y="281.11" fill="#000" fill-opacity="0.82" textLength="4.80" lengthAdjust="spacingAndGlyphs">69</text>
</g>
<g font-family="&quot;Liberation Sans&quot;, Arial, sans-serif" font-size="4.3" font-weight="bold" text-anchor="middle">
<rect x="379.40" y="35.10" width="11.61" height="18.16" fill="#76f1dd"/>
<rect x="390.01" y="35.10" width="11.61" height="18.16" fill="#76f1dd"/>
<rect x="400.62" y="35.10" width="11.61" height="18.16" fill="#76eee4"/>
<rect x="411.23" y="35.10" width="11.61" height="18.16" fill="#76eee4"/>
<rect x="421.84" y="35.10" width="11.61" height="18.16" fill="#76f1dd"/>
<rect x="432.45" y="35.10" width="11.61" height="18.16" fill="#76f1dd"/>
<rect x="443.06" y="35.10" width="11.61" height="18.16" fill="#76d6fa"/>
<rect x="453.67" y="35.10" width="11.61" height="18.16" fill="#76f1dd"/>
<rect x="464.28" y="35.10" width="11.61" height="18.16" fill="#91f4bb"/>
<rect x="474.89" y="35.10" width="10.61" height="18.16" fill="#76f1dd"/>
<rect x="379.40" y="52.26" width="11.61" height="18.16" fill="#76f1dd"/>
<rect x="390.01" y="52.26" width="11.61" height="18.16" fill="#76f0e0"/>
<rect x="400.62" y="52.26" width="11.61" height="18.16" fill="#76eee4"/>
<rect x="411.23" y="52.26" width="11.61" height="18.16" fill="#76eee4"/>
<rect x="421.84" y="52.26" width="11.61" height="18.16" fill="#76ecea"/>
<rect x="432.45" y="52.26" width="11.61" height="18.16" fill="#96f006"/>
<rect x="443.06" y="52.26" width="11.61" height="18.16" fill="#9df003"/>
<rect x="453.67" y="52.26" width="11.61" height="18.16" fill="#ffd200"/>
<rect x="464.28" y="52.26" width="11.61" height="18.16" fill="#f0e800"/>
<rect x="474.89" y="52.26" width="10.61" height="18.16" fill="#8ff009"/>
<rect x="379.40" y="69.41" width="11.61" height="18.16" fill="#76f1dd"/>
<rect x="390.01" y="69.41" width="11.61" height="18.16" fill="#8cf4c6"/>
<rect x="400.62" y="69.41" width="11.61" height="18.16" fill="#76f0e0"/>
<rect x="411.23" y="69.41" width="11.61" height="18.16" fill="#76f1dd"/>
<rect x="421.84" y="69.41" width="11.61" height="18.16" fill="#76f0e0"/>
<rect x="432.45" y="69.41" width="11.61" height="18.16" fill="#b6f000"/>
<rect x="443.06" y="69.41" width="11.61" height="18.16" fill="#b6f000"/>
<rect x="453.67" y="69.41" width="11.61" height="18.16" fill="#f0e800"/>
<rect x="464.28" y="69.41" width="11.61" height="18.16" fill="#ffd200"/>
<rect x="474.89" y="69.41" width="10.61" height="18.16" fill="#c8f000"/>
<rect x="379.40" y="86.57" width="11.61" height="18.16" fill="#76f1dd"/>
<rect x="390.01" y="86.57" width="11.61" height="18.16" fill="#76eee4"/>
<rect x="400.62" y="86.57" width="11.61" height="18.16" fill="#70c8fa"/>
<rect x="411.23" y="86.57" width="11.61" height="18.16" fill="#76ecea"/>
<rect x="421.84" y="86.57" width="11.61" height="18.16" fill="#76ecea"/>
<rect x="432.45" y="86.57" width="11.61" height="18.16" fill="#88f00c"/>
<rect x="443.06" y="86.57" width="11.61" height="18.16" fill="#9df003"/>
<rect x="453.67" y="86.57" width="11.61" height="18.16" fill="#c8f000"/>
<rect x="464.28" y="86.57" width="11.61" height="18.16" fill="#a4f000"/>
<rect x="474.89" y="86.57" width="10.61" height="18.16" fill="#8ff009"/>
<rect x="379.40" y="103.73" width="11.61" height="18.16" fill="#76f1dd"/>
<rect x="390.01" y="103.73" width="11.61" height="18.16" fill="#76f1dd"/>
<rect x="400.62" y="103.73" width="11.61" height="18.16" fill="#76ede7"/>
<rect x="411.23" y="103.73" width="11.61" height="18.16" fill="#76f1dd"/>
<rect x="421.84" y="103.73" width="11.61" height="18.16" fill="#76d6fa"/>
<rect x="432.45" y="103.73" width="11.61" height="18.16" fill="#7cf018"/>
<rect x="443.06" y="103.73" width="11.61" height="18.16" fill="#88f00c"/>
<rect x="453.67" y="103.73" width="11.61" height="18.16" fill="#a4f000"/>
<rect x="464.28" y="103.73" width="11.61" height="18.16" fill="#a4f000"/>
<rect x="474.89" y="103.73" width="10.61" height="18.16" fill="#88f00c"/>
<rect x="379.40" y="120.89" width="11.61" height="18.16" fill="#76f1dd"/>
<rect x="390.01" y="120.89" width="11.61" height="18.16" fill="#96f4b0"/>
<rect x="400.62" y="120.89" width="11.61" height="18.16" fill="#76eee4"/>
<rect x="411.23" y="120.89" width="11.61" height="18.16" fill="#91f4bb"/>
<rect x="421.84" y="120.89" width="11.61" height="18.16" fill="#76f1dd"/>
<rect x="432.45" y="120.89" width="11.61" height="18.16" fill="#8cf032"/>
<rect x="443.06" y="120.89" width="11.61" height="18.16" fill="#90f050"/>
<rect x="453.67" y="120.89" width="11.61" height="18.16" fill="#8cf032"/>
<rect x="464.28" y="120.89" width="11.61" height="18.16" fill="#87f029"/>
<rect x="474.89" y="120.89" width="10.61" height="18.16" fill="#7ff015"/>
<rect x="379.40" y="138.04" width="11.61" height="17.16" fill="#76f1dd"/>
<rect x="390.01" y="138.04" width="11.61" height="17.16" fill="#76f1dd"/>
<rect x="400.62" y="138.04" width="11.61" height="17.16" fill="#76f1dd"/>
<rect x="411.23" y="138.04" width="11.61" height="17.16" fill="#76f1dd"/>
<rect x="421.84" y="138.04" width="11.61" height="17.16" fill="#76f1dd"/>
<rect x="432.45" y="138.04" width="11.61" height="17.16" fill="#76f1dd"/>
<rect x="443.06" y="138.04" width="11.61" height="17.16" fill="#76f1dd"/>
<rect x="453.67" y="138.04" width="11.61" height="17.16" fill="#76f1dd"/>
<rect x="464.28" y="138.04" width="11.61" height="17.16" fill="#76f1dd"/>
<rect x="474.89" y="138.04" width="10.61" height="17.16" fill="#76f1dd"/>
<text x="384.70" y="45.38" fill="#03382a" stroke="#03382a" stroke-opacity="0.5" stroke-width="0.2" textLength="2.20" lengthAdjust="spacingAndGlyphs">0</text>
<text x="395.31" y="45.38" fill="#03382a" stroke="#03382a" stroke-opacity="0.5" stroke-width="0.2" textLength="2.20" lengthAdjust="spacingAndGlyphs">0</text>
<text x="405.92" y="45.38" fill="#03382a" stroke="#03382a" stroke-opacity="0.5" stroke-width="0.2" textLength="3.50" lengthAdjust="spacingAndGlyphs">&#8211;2</text>
<text x="416.53" y="45.38" fill="#03382a" stroke="#03382a" stroke-opacity="0.5" stroke-width="0.2" textLength="3.50" lengthAdjust="spacingAndGlyphs">&#8211;2</text>
<text x="427.14" y="45.38" fill="#03382a" stroke="#03382a" stroke-opacity="0.5" stroke-width="0.2" textLength="2.20" lengthAdjust="spacingAndGlyphs">0</text>
<text x="437.75" y="45.38" fill="#03382a" stroke="#03382a" stroke-opacity="0.5" stroke-width="0.2" textLength="2.20" lengthAdjust="spacingAndGlyphs">0</text>
<text x="448.37" y="45.38" fill="#03382a" stroke="#03382a" stroke-opacity="0.5" stroke-width="0.2" textLength="3.50" lengthAdjust="spacingAndGlyphs">&#8211;5</text>
<text x="458.98" y="45.38" fill="#03382a" stroke="#03382a" stroke-opacity="0.5" stroke-width="0.2" textLength="2.20" lengthAdjust="spacingAndGlyphs">0</text>
<text x="469.59" y="45.38" fill="#03382a" stroke="#03382a" stroke-opacity="0.5" stroke-width="0.2" textLength="2.20" lengthAdjust="spacingAndGlyphs">3</text>
<text x="480.19" y="45.38" fill="#03382a" stroke="#03382a" stroke-opacity="0.5" stroke-width="0.2" textLength="2.20" lengthAdjust="spacingAndGlyphs">0</text>
<text x="384.70" y="62.54" fill="#03382a" stroke="#03382a" stroke-opacity="0.5" stroke-width="0.2" textLength="2.20" lengthAdjust="spacingAndGlyphs">0</text>
<text x="395.31" y="62.54" fill="#03382a" stroke="#03382a" stroke-opacity="0.5" stroke-width="0.2" textLength="3.50" lengthAdjust="spacingAndGlyphs">&#8211;1</text>
<text x="405.92" y="62.54" fill="#03382a" stroke="#03382a" stroke-opacity="0.5" stroke-width="0.2" textLength="3.50" lengthAdjust="spacingAndGlyphs">&#8211;2</text>
<text x="416.53" y="62.54" fill="#03382a" stroke="#03382a" stroke-opacity="0.5" stroke-width="0.2" textLength="3.50" lengthAdjust="spacingAndGlyphs">&#8211;2</text>
<text x="427.14" y="62.54" fill="#03382a" stroke="#03382a" stroke-opacity="0.5" stroke-width="0.2" textLength="3.50" lengthAdjust="spacingAndGlyphs">&#8211;4</text>
<text x="437.75" y="62.54" fill="#03382a" stroke="#03382a" stroke-opacity="0.5" stroke-width="0.2" textLength="4.40" lengthAdjust="spacingAndGlyphs">16</text>
<text x="448.37" y="62.54" fill="#03382a" stroke="#03382a" stroke-opacity="0.5" stroke-width="0.2" textLength="4.40" lengthAdjust="spacingAndGlyphs">17</text>
<text x="458.98" y="62.54" fill="#03382a" stroke="#03382a" stroke-opacity="0.5" stroke-width="0.2" textLength="4.40" lengthAdjust="spacingAndGlyphs">25</text>
<text x="469.59" y="62.54" fill="#03382a" stroke="#03382a" stroke-opacity="0.5" stroke-width="0.2" textLength="4.40" lengthAdjust="spacingAndGlyphs">24</text>
<text x="480.19" y="62.54" fill="#03382a" stroke="#03382a" stroke-opacity="0.5" stroke-width="0.2" textLength="4.40" lengthAdjust="spacingAndGlyphs">15</text>
<text x="384.70" y="79.69" fill="#03382a" stroke="#03382a" stroke-opacity="0.5" stroke-width="0.2" textLength="2.20" lengthAdjust="spacingAndGlyphs">0</text>
<text x="395.31" y="79.69" fill="#03382a" stroke="#03382a" stroke-opacity="0.5" stroke-width="0.2" textLength="2.20" lengthAdjust="spacingAndGlyphs">2</text>
<text x="405.92" y="79.69" fill="#03382a" stroke="#03382a" stroke-opacity="0.5" stroke-width="0.2" textLength="3.50" lengthAdjust="spacingAndGlyphs">&#8211;1</text>
<text x="416.53" y="79.69" fill="#03382a" stroke="#03382a" stroke-opacity="0.5" stroke-width="0.2" textLength="2.20" lengthAdjust="spacingAndGlyphs">0</text>
<text x="427.14" y="79.69" fill="#03382a" stroke="#03382a" stroke-opacity="0.5" stroke-width="0.2" textLength="3.50" lengthAdjust="spacingAndGlyphs">&#8211;1</text>
<text x="437.75" y="79.69" fill="#03382a" stroke="#03382a" stroke-opacity="0.5" stroke-width="0.2" textLength="4.40" lengthAdjust="spacingAndGlyphs">19</text>
<text x="448.37" y="79.69" fill="#03382a" stroke="#03382a" stroke-opacity="0.5" stroke-width="0.2" textLength="4.40" lengthAdjust="spacingAndGlyphs">19</text>
<text x="458.98" y="79.69" fill="#03382a" stroke="#03382a" stroke-opacity="0.5" stroke-width="0.2" textLength="4.40" lengthAdjust="spacingAndGlyphs">24</text>
<text x="469.59" y="79.69" fill="#03382a" stroke="#03382a" stroke-opacity="0.5" stroke-width="0.2" textLength="4.40" lengthAdjust="spacingAndGlyphs">25</text>
<text x="480.19" y="79.69" fill="#03382a" stroke="#03382a" stroke-opacity="0.5" stroke-width="0.2" textLength="4.40" lengthAdjust="spacingAndGlyphs">20</text>
<text x="384.70" y="96.85" fill="#03382a" stroke="#03382a" stroke-opacity="0.5" stroke-width="0.2" textLength="2.20" lengthAdjust="spacingAndGlyphs">0</text>
<text x="395.31" y="96.85" fill="#03382a" stroke="#03382a" stroke-opacity="0.5" stroke-width="0.2" textLength="3.50" lengthAdjust="spacingAndGlyphs">&#8211;2</text>
<text x="405.92" y="96.85" fill="#03382a" stroke="#03382a" stroke-opacity="0.5" stroke-width="0.2" textLength="3.50" lengthAdjust="spacingAndGlyphs">&#8211;6</text>
<text x="416.53" y="96.85" fill="#03382a" stroke="#03382a" stroke-opacity="0.5" stroke-width="0.2" textLength="3.50" lengthAdjust="spacingAndGlyphs">&#8211;4</text>
<text x="427.14" y="96.85" fill="#03382a" stroke="#03382a" stroke-opacity="0.5" stroke-width="0.2" textLength="3.50" lengthAdjust="spacingAndGlyphs">&#8211;4</text>
<text x="437.75" y="96.85" fill="#03382a" stroke="#03382a" stroke-opacity="0.5" stroke-width="0.2" textLength="4.40" lengthAdjust="spacingAndGlyphs">14</text>
<text x="448.37" y="96.85" fill="#03382a" stroke="#03382a" stroke-opacity="0.5" stroke-width="0.2" textLength="4.40" lengthAdjust="spacingAndGlyphs">17</text>
<text x="458.98" y="96.85" fill="#03382a" stroke="#03382a" stroke-opacity="0.5" stroke-width="0.2" textLength="4.40" lengthAdjust="spacingAndGlyphs">20</text>
<text x="469.59" y="96.85" fill="#03382a" stroke="#03382a" stroke-opacity="0.5" stroke-width="0.2" textLength="4.40" lengthAdjust="spacingAndGlyphs">18</text>
<text x="480.19" y="96.85" fill="#03382a" stroke="#03382a" stroke-opacity="0.5" stroke-width="0.2" textLength="4.40" lengthAdjust="spacingAndGlyphs">15</text>
<text x="384.70" y="114.01" fill="#03382a" stroke="#03382a" stroke-opacity="0.5" stroke-width="0.2" textLength="2.20" lengthAdjust="spacingAndGlyphs">0</text>
<text x="395.31" y="114.01" fill="#03382a" stroke="#03382a" stroke-opacity="0.5" stroke-width="0.2" textLength="2.20" lengthAdjust="spacingAndGlyphs">0</text>
<text x="405.92" y="114.01" fill="#03382a" stroke="#03382a" stroke-opacity="0.5" stroke-width="0.2" textLength="3.50" lengthAdjust="spacingAndGlyphs">&#8211;3</text>
<text x="416.53" y="114.01" fill="#03382a" stroke="#03382a" stroke-opacity="0.5" stroke-width="0.2" textLength="2.20" lengthAdjust="spacingAndGlyphs">0</text>
<text x="427.14" y="114.01" fill="#03382a" stroke="#03382a" stroke-opacity="0.5" stroke-width="0.2" textLength="3.50" lengthAdjust="spacingAndGlyphs">&#8211;5</text>
<text x="437.75" y="114.01" fill="#03382a" stroke="#03382a" stroke-opacity="0.5" stroke-width="0.2" textLength="4.40" lengthAdjust="spacingAndGlyphs">10</text>
<text x="448.37" y="114.01" fill="#03382a" stroke="#03382a" stroke-opacity="0.5" stroke-width="0.2" textLength="4.40" lengthAdjust="spacingAndGlyphs">14</text>
<text x="458.98" y="114.01" fill="#03382a" stroke="#03382a" stroke-opacity="0.5" stroke-width="0.2" textLength="4.40" lengthAdjust="spacingAndGlyphs">18</text>
<text x="469.59" y="114.01" fill="#03382a" stroke="#03382a" stroke-opacity="0.5" stroke-width="0.2" textLength="4.40" lengthAdjust="spacingAndGlyphs">18</text>
<text x="480.19" y="114.01" fill="#03382a" stroke="#03382a" stroke-opacity="0.5" stroke-width="0.2" textLength="4.40" lengthAdjust="spacingAndGlyphs">14</text>
<text x="384.70" y="131.16" fill="#03382a" stroke="#03382a" stroke-opacity="0.5" stroke-width="0.2" textLength="2.20" lengthAdjust="spacingAndGlyphs">0</text>
<text x="395.31" y="131.16" fill="#03382a" stroke="#03382a" stroke-opacity="0.5" stroke-width="0.2" textLength="2.20" lengthAdjust="spacingAndGlyphs">4</text>
<text x="405.92" y="131.16" fill="#03382a" stroke="#03382a" stroke-opacity="0.5" stroke-width="0.2" textLength="3.50" lengthAdjust="spacingAndGlyphs">&#8211;2</text>
<text x="416.53" y="131.16" fill="#03382a" stroke="#03382a" stroke-opacity="0.5" stroke-width="0.2" textLength="2.20" lengthAdjust="spacingAndGlyphs">3</text>
<text x="427.14" y="131.16" fill="#03382a" stroke="#03382a" stroke-opacity="0.5" stroke-width="0.2" textLength="2.20" lengthAdjust="spacingAndGlyphs">0</text>
<text x="437.75" y="131.16" fill="#03382a" stroke="#03382a" stroke-opacity="0.5" stroke-width="0.2" textLength="2.20" lengthAdjust="spacingAndGlyphs">7</text>
<text x="448.37" y="131.16" fill="#03382a" stroke="#03382a" stroke-opacity="0.5" stroke-width="0.2" textLength="2.20" lengthAdjust="spacingAndGlyphs">5</text>
<text x="458.98" y="131.16" fill="#03382a" stroke="#03382a" stroke-opacity="0.5" stroke-width="0.2" textLength="2.20" lengthAdjust="spacingAndGlyphs">7</text>
<text x="469.59" y="131.16" fill="#03382a" stroke="#03382a" stroke-opacity="0.5" stroke-width="0.2" textLength="2.20" lengthAdjust="spacingAndGlyphs">8</text>
<text x="480.19" y="131.16" fill="#03382a" stroke="#03382a" stroke-opacity="0.5" stroke-width="0.2" textLength="4.40" lengthAdjust="spacingAndGlyphs">11</text>
<text x="384.70" y="148.32" fill="#03382a" stroke="#03382a" stroke-opacity="0.5" stroke-width="0.2" textLength="2.20" lengthAdjust="spacingAndGlyphs">0</text>
<text x="395.31" y="148.32" fill="#03382a" stroke="#03382a" stroke-opacity="0.5" stroke-width="0.2" textLength="2.20" lengthAdjust="spacingAndGlyphs">0</text>
<text x="405.92" y="148.32" fill="#03382a" stroke="#03382a" stroke-opacity="0.5" stroke-width="0.2" textLength="2.20" lengthAdjust="spacingAndGlyphs">0</text>
<text x="416.53" y="148.32" fill="#03382a" stroke="#03382a" stroke-opacity="0.5" stroke-width="0.2" textLength="2.20" lengthAdjust="spacingAndGlyphs">0</text>
<text x="427.14" y="148.32" fill="#03382a" stroke="#03382a" stroke-opacity="0.5" stroke-width="0.2" textLength="2.20" lengthAdjust="spacingAndGlyphs">0</text>
<text x="437.75" y="148.32" fill="#03382a" stroke="#03382a" stroke-opacity="0.5" stroke-width="0.2" textLength="2.20" lengthAdjust="spacingAndGlyphs">0</text>
<text x="448.37" y="148.32" fill="#03382a" stroke="#03382a" stroke-opacity="0.5" stroke-width="0.2" textLength="2.20" lengthAdjust="spacingAndGlyphs">0</text>
<text x="458.98" y="148.32" fill="#03382a" stroke="#03382a" stroke-opacity="0.5" stroke-width="0.2" textLength="2.20" lengthAdjust="spacingAndGlyphs">0</text>
<text x="469.59" y="148.32" fill="#03382a" stroke="#03382a" stroke-opacity="0.5" stroke-width="0.2" textLength="2.20" lengthAdjust="spacingAndGlyphs">0</text>
<text x="480.19" y="148.32" fill="#03382a" stroke="#03382a" stroke-opacity="0.5" stroke-width="0.2" textLength="2.20" lengthAdjust="spacingAndGlyphs">0</text>
</g>
<rect x="379.40" y="35.10" width="106.10" height="0.8" fill="#5fb8a6" fill-opacity="0.8"/>
<path d="M377.60 43.68h1.6M377.60 60.84h1.6M377.60 77.99h1.6M377.60 95.15h1.6M377.60 112.31h1.6M377.60 129.46h1.6M377.60 146.62h1.6" stroke="#999" stroke-width="0.5"/>
<g font-family="&quot;Liberation Sans&quot;, Arial, sans-serif" font-size="4.3" font-weight="bold" text-anchor="middle">
<rect x="380.10" y="167.70" width="11.54" height="17.97" fill="#76f1dd"/>
<rect x="390.64" y="167.70" width="11.54" height="17.97" fill="#76ede7"/>
<rect x="401.18" y="167.70" width="11.54" height="17.97" fill="#76f1dd"/>
<rect x="411.72" y="167.70" width="11.54" height="17.97" fill="#76f0e0"/>
<rect x="422.26" y="167.70" width="11.54" height="17.97" fill="#90f050"/>
<rect x="432.80" y="167.70" width="11.54" height="17.97" fill="#96f4b0"/>
<rect x="443.34" y="167.70" width="11.54" height="17.97" fill="#8cf032"/>
<rect x="453.88" y="167.70" width="11.54" height="17.97" fill="#8cf4c6"/>
<rect x="464.42" y="167.70" width="11.54" height="17.97" fill="#76f1dd"/>
<rect x="474.96" y="167.70" width="10.54" height="17.97" fill="#76f1dd"/>
<rect x="380.10" y="184.67" width="11.54" height="17.97" fill="#76f1dd"/>
<rect x="390.64" y="184.67" width="11.54" height="17.97" fill="#76f1dd"/>
<rect x="401.18" y="184.67" width="11.54" height="17.97" fill="#76eee4"/>
<rect x="411.72" y="184.67" width="11.54" height="17.97" fill="#76f1dd"/>
<rect x="422.26" y="184.67" width="11.54" height="17.97" fill="#8cf4c6"/>
<rect x="432.80" y="184.67" width="11.54" height="17.97" fill="#96f4b0"/>
<rect x="443.34" y="184.67" width="11.54" height="17.97" fill="#81f021"/>
<rect x="453.88" y="184.67" width="11.54" height="17.97" fill="#96f4b0"/>
<rect x="464.42" y="184.67" width="11.54" height="17.97" fill="#76f2da"/>
<rect x="474.96" y="184.67" width="10.54" height="17.97" fill="#76f2da"/>
<rect x="380.10" y="201.64" width="11.54" height="17.97" fill="#76f1dd"/>
<rect x="390.64" y="201.64" width="11.54" height="17.97" fill="#90f050"/>
<rect x="401.18" y="201.64" width="11.54" height="17.97" fill="#8cf032"/>
<rect x="411.72" y="201.64" width="11.54" height="17.97" fill="#76f2da"/>
<rect x="422.26" y="201.64" width="11.54" height="17.97" fill="#7cf018"/>
<rect x="432.80" y="201.64" width="11.54" height="17.97" fill="#91f4bb"/>
<rect x="443.34" y="201.64" width="11.54" height="17.97" fill="#82f012"/>
<rect x="453.88" y="201.64" width="11.54" height="17.97" fill="#91f4bb"/>
<rect x="464.42" y="201.64" width="11.54" height="17.97" fill="#96f4b0"/>
<rect x="474.96" y="201.64" width="10.54" height="17.97" fill="#96f4b0"/>
<rect x="380.10" y="218.61" width="11.54" height="17.97" fill="#76f1dd"/>
<rect x="390.64" y="218.61" width="11.54" height="17.97" fill="#76f0e0"/>
<rect x="401.18" y="218.61" width="11.54" height="17.97" fill="#76f1dd"/>
<rect x="411.72" y="218.61" width="11.54" height="17.97" fill="#76f1dd"/>
<rect x="422.26" y="218.61" width="11.54" height="17.97" fill="#8ef041"/>
<rect x="432.80" y="218.61" width="11.54" height="17.97" fill="#76f0e0"/>
<rect x="443.34" y="218.61" width="11.54" height="17.97" fill="#90f050"/>
<rect x="453.88" y="218.61" width="11.54" height="17.97" fill="#8cf4c6"/>
<rect x="464.42" y="218.61" width="11.54" height="17.97" fill="#76f2da"/>
<rect x="474.96" y="218.61" width="10.54" height="17.97" fill="#91f4bb"/>
<rect x="380.10" y="235.59" width="11.54" height="17.97" fill="#76f1dd"/>
<rect x="390.64" y="235.59" width="11.54" height="17.97" fill="#76f1dd"/>
<rect x="401.18" y="235.59" width="11.54" height="17.97" fill="#76f2da"/>
<rect x="411.72" y="235.59" width="11.54" height="17.97" fill="#8cf4c6"/>
<rect x="422.26" y="235.59" width="11.54" height="17.97" fill="#87f029"/>
<rect x="432.80" y="235.59" width="11.54" height="17.97" fill="#76f0e0"/>
<rect x="443.34" y="235.59" width="11.54" height="17.97" fill="#90f050"/>
<rect x="453.88" y="235.59" width="11.54" height="17.97" fill="#76f2da"/>
<rect x="464.42" y="235.59" width="11.54" height="17.97" fill="#8cf4c6"/>
<rect x="474.96" y="235.59" width="10.54" height="17.97" fill="#76f2da"/>
<rect x="380.10" y="252.56" width="11.54" height="17.97" fill="#76f1dd"/>
<rect x="390.64" y="252.56" width="11.54" height="17.97" fill="#76f1dd"/>
<rect x="401.18" y="252.56" width="11.54" height="17.97" fill="#76f0e0"/>
<rect x="411.72" y="252.56" width="11.54" height="17.97" fill="#76f1dd"/>
<rect x="422.26" y="252.56" width="11.54" height="17.97" fill="#87f029"/>
<rect x="432.80" y="252.56" width="11.54" height="17.97" fill="#76ede7"/>
<rect x="443.34" y="252.56" width="11.54" height="17.97" fill="#76ede7"/>
<rect x="453.88" y="252.56" width="11.54" height="17.97" fill="#76eee4"/>
<rect x="464.42" y="252.56" width="11.54" height="17.97" fill="#76f1dd"/>
<rect x="474.96" y="252.56" width="10.54" height="17.97" fill="#76f2da"/>
<rect x="380.10" y="269.53" width="11.54" height="16.97" fill="#76f1dd"/>
<rect x="390.64" y="269.53" width="11.54" height="16.97" fill="#76f1dd"/>
<rect x="401.18" y="269.53" width="11.54" height="16.97" fill="#76f1dd"/>
<rect x="411.72" y="269.53" width="11.54" height="16.97" fill="#76f1dd"/>
<rect x="422.26" y="269.53" width="11.54" height="16.97" fill="#76f1dd"/>
<rect x="432.80" y="269.53" width="11.54" height="16.97" fill="#76f1dd"/>
<rect x="443.34" y="269.53" width="11.54" height="16.97" fill="#76f1dd"/>
<rect x="453.88" y="269.53" width="11.54" height="16.97" fill="#76f1dd"/>
<rect x="464.42" y="269.53" width="11.54" height="16.97" fill="#76f1dd"/>
<rect x="474.96" y="269.53" width="10.54" height="16.97" fill="#76f1dd"/>
<text x="385.37" y="177.89" fill="#03382a" stroke="#03382a" stroke-opacity="0.5" stroke-width="0.2" textLength="2.20" lengthAdjust="spacingAndGlyphs">0</text>
<text x="395.91" y="177.89" fill="#03382a" stroke="#03382a" stroke-opacity="0.5" stroke-width="0.2" textLength="3.50" lengthAdjust="spacingAndGlyphs">&#8211;3</text>
<text x="406.45" y="177.89" fill="#03382a" stroke="#03382a" stroke-opacity="0.5" stroke-width="0.2" textLength="2.20" lengthAdjust="spacingAndGlyphs">0</text>
<text x="416.99" y="177.89" fill="#03382a" stroke="#03382a" stroke-opacity="0.5" stroke-width="0.2" textLength="3.50" lengthAdjust="spacingAndGlyphs">&#8211;1</text>
<text x="427.53" y="177.89" fill="#03382a" stroke="#03382a" stroke-opacity="0.5" stroke-width="0.2" textLength="2.20" lengthAdjust="spacingAndGlyphs">5</text>
<text x="438.07" y="177.89" fill="#03382a" stroke="#03382a" stroke-opacity="0.5" stroke-width="0.2" textLength="2.20" lengthAdjust="spacingAndGlyphs">4</text>
<text x="448.61" y="177.89" fill="#03382a" stroke="#03382a" stroke-opacity="0.5" stroke-width="0.2" textLength="2.20" lengthAdjust="spacingAndGlyphs">7</text>
<text x="459.15" y="177.89" fill="#03382a" stroke="#03382a" stroke-opacity="0.5" stroke-width="0.2" textLength="2.20" lengthAdjust="spacingAndGlyphs">2</text>
<text x="469.69" y="177.89" fill="#03382a" stroke="#03382a" stroke-opacity="0.5" stroke-width="0.2" textLength="2.20" lengthAdjust="spacingAndGlyphs">0</text>
<text x="480.23" y="177.89" fill="#03382a" stroke="#03382a" stroke-opacity="0.5" stroke-width="0.2" textLength="2.20" lengthAdjust="spacingAndGlyphs">0</text>
<text x="385.37" y="194.86" fill="#03382a" stroke="#03382a" stroke-opacity="0.5" stroke-width="0.2" textLength="2.20" lengthAdjust="spacingAndGlyphs">0</text>
<text x="395.91" y="194.86" fill="#03382a" stroke="#03382a" stroke-opacity="0.5" stroke-width="0.2" textLength="2.20" lengthAdjust="spacingAndGlyphs">0</text>
<text x="406.45" y="194.86" fill="#03382a" stroke="#03382a" stroke-opacity="0.5" stroke-width="0.2" textLength="3.50" lengthAdjust="spacingAndGlyphs">&#8211;2</text>
<text x="416.99" y="194.86" fill="#03382a" stroke="#03382a" stroke-opacity="0.5" stroke-width="0.2" textLength="2.20" lengthAdjust="spacingAndGlyphs">0</text>
<text x="427.53" y="194.86" fill="#03382a" stroke="#03382a" stroke-opacity="0.5" stroke-width="0.2" textLength="2.20" lengthAdjust="spacingAndGlyphs">2</text>
<text x="438.07" y="194.86" fill="#03382a" stroke="#03382a" stroke-opacity="0.5" stroke-width="0.2" textLength="2.20" lengthAdjust="spacingAndGlyphs">4</text>
<text x="448.61" y="194.86" fill="#03382a" stroke="#03382a" stroke-opacity="0.5" stroke-width="0.2" textLength="2.20" lengthAdjust="spacingAndGlyphs">9</text>
<text x="459.15" y="194.86" fill="#03382a" stroke="#03382a" stroke-opacity="0.5" stroke-width="0.2" textLength="2.20" lengthAdjust="spacingAndGlyphs">4</text>
<text x="469.69" y="194.86" fill="#03382a" stroke="#03382a" stroke-opacity="0.5" stroke-width="0.2" textLength="2.20" lengthAdjust="spacingAndGlyphs">1</text>
<text x="480.23" y="194.86" fill="#03382a" stroke="#03382a" stroke-opacity="0.5" stroke-width="0.2" textLength="2.20" lengthAdjust="spacingAndGlyphs">1</text>
<text x="385.37" y="211.83" fill="#03382a" stroke="#03382a" stroke-opacity="0.5" stroke-width="0.2" textLength="2.20" lengthAdjust="spacingAndGlyphs">0</text>
<text x="395.91" y="211.83" fill="#03382a" stroke="#03382a" stroke-opacity="0.5" stroke-width="0.2" textLength="2.20" lengthAdjust="spacingAndGlyphs">5</text>
<text x="406.45" y="211.83" fill="#03382a" stroke="#03382a" stroke-opacity="0.5" stroke-width="0.2" textLength="2.20" lengthAdjust="spacingAndGlyphs">7</text>
<text x="416.99" y="211.83" fill="#03382a" stroke="#03382a" stroke-opacity="0.5" stroke-width="0.2" textLength="2.20" lengthAdjust="spacingAndGlyphs">1</text>
<text x="427.53" y="211.83" fill="#03382a" stroke="#03382a" stroke-opacity="0.5" stroke-width="0.2" textLength="4.40" lengthAdjust="spacingAndGlyphs">10</text>
<text x="438.07" y="211.83" fill="#03382a" stroke="#03382a" stroke-opacity="0.5" stroke-width="0.2" textLength="2.20" lengthAdjust="spacingAndGlyphs">3</text>
<text x="448.61" y="211.83" fill="#03382a" stroke="#03382a" stroke-opacity="0.5" stroke-width="0.2" textLength="4.40" lengthAdjust="spacingAndGlyphs">12</text>
<text x="459.15" y="211.83" fill="#03382a" stroke="#03382a" stroke-opacity="0.5" stroke-width="0.2" textLength="2.20" lengthAdjust="spacingAndGlyphs">3</text>
<text x="469.69" y="211.83" fill="#03382a" stroke="#03382a" stroke-opacity="0.5" stroke-width="0.2" textLength="2.20" lengthAdjust="spacingAndGlyphs">4</text>
<text x="480.23" y="211.83" fill="#03382a" stroke="#03382a" stroke-opacity="0.5" stroke-width="0.2" textLength="2.20" lengthAdjust="spacingAndGlyphs">4</text>
<text x="385.37" y="228.80" fill="#03382a" stroke="#03382a" stroke-opacity="0.5" stroke-width="0.2" textLength="2.20" lengthAdjust="spacingAndGlyphs">0</text>
<text x="395.91" y="228.80" fill="#03382a" stroke="#03382a" stroke-opacity="0.5" stroke-width="0.2" textLength="3.50" lengthAdjust="spacingAndGlyphs">&#8211;1</text>
<text x="406.45" y="228.80" fill="#03382a" stroke="#03382a" stroke-opacity="0.5" stroke-width="0.2" textLength="2.20" lengthAdjust="spacingAndGlyphs">0</text>
<text x="416.99" y="228.80" fill="#03382a" stroke="#03382a" stroke-opacity="0.5" stroke-width="0.2" textLength="2.20" lengthAdjust="spacingAndGlyphs">0</text>
<text x="427.53" y="228.80" fill="#03382a" stroke="#03382a" stroke-opacity="0.5" stroke-width="0.2" textLength="2.20" lengthAdjust="spacingAndGlyphs">6</text>
<text x="438.07" y="228.80" fill="#03382a" stroke="#03382a" stroke-opacity="0.5" stroke-width="0.2" textLength="3.50" lengthAdjust="spacingAndGlyphs">&#8211;1</text>
<text x="448.61" y="228.80" fill="#03382a" stroke="#03382a" stroke-opacity="0.5" stroke-width="0.2" textLength="2.20" lengthAdjust="spacingAndGlyphs">5</text>
<text x="459.15" y="228.80" fill="#03382a" stroke="#03382a" stroke-opacity="0.5" stroke-width="0.2" textLength="2.20" lengthAdjust="spacingAndGlyphs">2</text>
<text x="469.69" y="228.80" fill="#03382a" stroke="#03382a" stroke-opacity="0.5" stroke-width="0.2" textLength="2.20" lengthAdjust="spacingAndGlyphs">1</text>
<text x="480.23" y="228.80" fill="#03382a" stroke="#03382a" stroke-opacity="0.5" stroke-width="0.2" textLength="2.20" lengthAdjust="spacingAndGlyphs">3</text>
<text x="385.37" y="245.77" fill="#03382a" stroke="#03382a" stroke-opacity="0.5" stroke-width="0.2" textLength="2.20" lengthAdjust="spacingAndGlyphs">0</text>
<text x="395.91" y="245.77" fill="#03382a" stroke="#03382a" stroke-opacity="0.5" stroke-width="0.2" textLength="2.20" lengthAdjust="spacingAndGlyphs">0</text>
<text x="406.45" y="245.77" fill="#03382a" stroke="#03382a" stroke-opacity="0.5" stroke-width="0.2" textLength="2.20" lengthAdjust="spacingAndGlyphs">1</text>
<text x="416.99" y="245.77" fill="#03382a" stroke="#03382a" stroke-opacity="0.5" stroke-width="0.2" textLength="2.20" lengthAdjust="spacingAndGlyphs">2</text>
<text x="427.53" y="245.77" fill="#03382a" stroke="#03382a" stroke-opacity="0.5" stroke-width="0.2" textLength="2.20" lengthAdjust="spacingAndGlyphs">8</text>
<text x="438.07" y="245.77" fill="#03382a" stroke="#03382a" stroke-opacity="0.5" stroke-width="0.2" textLength="3.50" lengthAdjust="spacingAndGlyphs">&#8211;1</text>
<text x="448.61" y="245.77" fill="#03382a" stroke="#03382a" stroke-opacity="0.5" stroke-width="0.2" textLength="2.20" lengthAdjust="spacingAndGlyphs">5</text>
<text x="459.15" y="245.77" fill="#03382a" stroke="#03382a" stroke-opacity="0.5" stroke-width="0.2" textLength="2.20" lengthAdjust="spacingAndGlyphs">1</text>
<text x="469.69" y="245.77" fill="#03382a" stroke="#03382a" stroke-opacity="0.5" stroke-width="0.2" textLength="2.20" lengthAdjust="spacingAndGlyphs">2</text>
<text x="480.23" y="245.77" fill="#03382a" stroke="#03382a" stroke-opacity="0.5" stroke-width="0.2" textLength="2.20" lengthAdjust="spacingAndGlyphs">1</text>
<text x="385.37" y="262.74" fill="#03382a" stroke="#03382a" stroke-opacity="0.5" stroke-width="0.2" textLength="2.20" lengthAdjust="spacingAndGlyphs">0</text>
<text x="395.91" y="262.74" fill="#03382a" stroke="#03382a" stroke-opacity="0.5" stroke-width="0.2" textLength="2.20" lengthAdjust="spacingAndGlyphs">0</text>
<text x="406.45" y="262.74" fill="#03382a" stroke="#03382a" stroke-opacity="0.5" stroke-width="0.2" textLength="3.50" lengthAdjust="spacingAndGlyphs">&#8211;1</text>
<text x="416.99" y="262.74" fill="#03382a" stroke="#03382a" stroke-opacity="0.5" stroke-width="0.2" textLength="2.20" lengthAdjust="spacingAndGlyphs">0</text>
<text x="427.53" y="262.74" fill="#03382a" stroke="#03382a" stroke-opacity="0.5" stroke-width="0.2" textLength="2.20" lengthAdjust="spacingAndGlyphs">8</text>
<text x="438.07" y="262.74" fill="#03382a" stroke="#03382a" stroke-opacity="0.5" stroke-width="0.2" textLength="3.50" lengthAdjust="spacingAndGlyphs">&#8211;3</text>
<text x="448.61" y="262.74" fill="#03382a" stroke="#03382a" stroke-opacity="0.5" stroke-width="0.2" textLength="3.50" lengthAdjust="spacingAndGlyphs">&#8211;3</text>
<text x="459.15" y="262.74" fill="#03382a" stroke="#03382a" stroke-opacity="0.5" stroke-width="0.2" textLength="3.50" lengthAdjust="spacingAndGlyphs">&#8211;2</text>
<text x="469.69" y="262.74" fill="#03382a" stroke="#03382a" stroke-opacity="0.5" stroke-width="0.2" textLength="2.20" lengthAdjust="spacingAndGlyphs">0</text>
<text x="480.23" y="262.74" fill="#03382a" stroke="#03382a" stroke-opacity="0.5" stroke-width="0.2" textLength="2.20" lengthAdjust="spacingAndGlyphs">1</text>
<text x="385.37" y="279.71" fill="#03382a" stroke="#03382a" stroke-opacity="0.5" stroke-width="0.2" textLength="2.20" lengthAdjust="spacingAndGlyphs">0</text>
<text x="395.91" y="279.71" fill="#03382a" stroke="#03382a" stroke-opacity="0.5" stroke-width="0.2" textLength="2.20" lengthAdjust="spacingAndGlyphs">0</text>
<text x="406.45" y="279.71" fill="#03382a" stroke="#03382a" stroke-opacity="0.5" stroke-width="0.2" textLength="2.20" lengthAdjust="spacingAndGlyphs">0</text>
<text x="416.99" y="279.71" fill="#03382a" stroke="#03382a" stroke-opacity="0.5" stroke-width="0.2" textLength="2.20" lengthAdjust="spacingAndGlyphs">0</text>
<text x="427.53" y="279.71" fill="#03382a" stroke="#03382a" stroke-opacity="0.5" stroke-width="0.2" textLength="2.20" lengthAdjust="spacingAndGlyphs">0</text>
<text x="438.07" y="279.71" fill="#03382a" stroke="#03382a" stroke-opacity="0.5" stroke-width="0.2" textLength="2.20" lengthAdjust="spacingAndGlyphs">0</text>
<text x="448.61" y="279.71" fill="#03382a" stroke="#03382a" stroke-opacity="0.5" stroke-width="0.2" textLength="2.20" lengthAdjust="spacingAndGlyphs">0</text>
<text x="459.15" y="279.71" fill="#03382a" stroke="#03382a" stroke-opacity="0.5" stroke-width="0.2" textLength="2.20" lengthAdjust="spacingAndGlyphs">0</text>
<text x="469.69" y="279.71" fill="#03382a" stroke="#03382a" stroke-opacity="0.5" stroke-width="0.2" textLength="2.20" lengthAdjust="spacingAndGlyphs">0</text>
<text x="480.23" y="279.71" fill="#03382a" stroke="#03382a" stroke-opacity="0.5" stroke-width="0.2" textLength="2.20" lengthAdjust="spacingAndGlyphs">0</text>
</g>
<rect x="380.10" y="167.70" width="105.40" height="0.8" fill="#5fb8a6" fill-opacity="0.8"/>
<path d="M378.30 176.19h1.6M378.30 193.16h1.6M378.30 210.13h1.6M378.30 227.10h1.6M378.30 244.07h1.6M378.30 261.04h1.6M378.30 278.01h1.6" stroke="#999" stroke-width="0.5"/>
<rect x="353.20" y="39.80" width="4.40" height="110.80" fill="url(#cbB1)"/>
<g font-family="&quot;Liberation Sans&quot;, Arial, sans-serif" font-size="3.6" font-weight="bold" fill="#333">
<line x1="359.2" y1="41.1" x2="360.5" y2="41.1" stroke="#666" stroke-width="0.4"/>
<text x="361.5" y="42.4">100</text>
<line x1="359.2" y1="62.9" x2="360.5" y2="62.9" stroke="#666" stroke-width="0.4"/>
<text x="361.5" y="64.2">80</text>
<line x1="359.2" y1="84.8" x2="360.5" y2="84.8" stroke="#666" stroke-width="0.4"/>
<text x="361.5" y="86.1">60</text>
<line x1="359.2" y1="106.7" x2="360.5" y2="106.7" stroke="#666" stroke-width="0.4"/>
<text x="361.5" y="108.0">40</text>
<line x1="359.2" y1="128.6" x2="360.5" y2="128.6" stroke="#666" stroke-width="0.4"/>
<text x="361.5" y="129.9">20</text>
<line x1="359.2" y1="150.6" x2="360.5" y2="150.6" stroke="#666" stroke-width="0.4"/>
<text x="361.5" y="151.9">0</text>
</g>
<rect x="352.20" y="175.80" width="4.20" height="107.40" fill="url(#cbB2)"/>
<g font-family="&quot;Liberation Sans&quot;, Arial, sans-serif" font-size="3.6" font-weight="bold" fill="#333">
<line x1="358.0" y1="176.4" x2="359.3" y2="176.4" stroke="#666" stroke-width="0.4"/>
<text x="360.5" y="177.7">100</text>
<line x1="358.0" y1="198.0" x2="359.3" y2="198.0" stroke="#666" stroke-width="0.4"/>
<text x="360.5" y="199.3">80</text>
<line x1="358.0" y1="219.4" x2="359.3" y2="219.4" stroke="#666" stroke-width="0.4"/>
<text x="360.5" y="220.7">60</text>
<line x1="358.0" y1="241.0" x2="359.3" y2="241.0" stroke="#666" stroke-width="0.4"/>
<text x="360.5" y="242.3">40</text>
<line x1="358.0" y1="262.2" x2="359.3" y2="262.2" stroke="#666" stroke-width="0.4"/>
<text x="360.5" y="263.5">20</text>
<line x1="358.0" y1="283.4" x2="359.3" y2="283.4" stroke="#666" stroke-width="0.4"/>
<text x="360.5" y="284.7">0</text>
</g>
<rect x="492.20" y="41.00" width="4.10" height="108.60" fill="url(#cbC1)"/>
<g font-family="&quot;Liberation Sans&quot;, Arial, sans-serif" font-size="3.6" font-weight="bold" fill="#333">
<line x1="497.9" y1="62.8" x2="499.2" y2="62.8" stroke="#666" stroke-width="0.4"/>
<text x="500.0" y="64.1">40</text>
<line x1="497.9" y1="86.9" x2="499.2" y2="86.9" stroke="#666" stroke-width="0.4"/>
<text x="500.0" y="88.2">20</text>
<line x1="497.9" y1="110.2" x2="499.2" y2="110.2" stroke="#666" stroke-width="0.4"/>
<text x="500.0" y="111.5">0</text>
<line x1="497.9" y1="133.6" x2="499.2" y2="133.6" stroke="#666" stroke-width="0.4"/>
<text x="500.0" y="134.9">&#8211;20</text>
</g>
<rect x="492.20" y="173.80" width="3.80" height="106.90" fill="url(#cbC2)"/>
<g font-family="&quot;Liberation Sans&quot;, Arial, sans-serif" font-size="3.6" font-weight="bold" fill="#333">
<line x1="497.6" y1="195.4" x2="498.9" y2="195.4" stroke="#666" stroke-width="0.4"/>
<text x="500.0" y="196.7">40</text>
<line x1="497.6" y1="218.8" x2="498.9" y2="218.8" stroke="#666" stroke-width="0.4"/>
<text x="500.0" y="220.1">20</text>
<line x1="497.6" y1="242.2" x2="498.9" y2="242.2" stroke="#666" stroke-width="0.4"/>
<text x="500.0" y="243.5">0</text>
<line x1="497.6" y1="265.7" x2="498.9" y2="265.7" stroke="#666" stroke-width="0.4"/>
<text x="500.0" y="267.0">&#8211;20</text>
</g>
<path d="M292.15 63.00 h2.3 v5.40 h0.9 l-2.05 2.6 l-2.05 -2.6 h0.9 z" fill="#000"/>
<path d="M334.15 134.70 h2.3 v5.50 h0.9 l-2.05 2.6 l-2.05 -2.6 h0.9 z" fill="#000"/>
<path d="M302.35 195.80 h2.3 v5.20 h0.9 l-2.05 2.6 l-2.05 -2.6 h0.9 z" fill="#000"/>
<path d="M301.85 267.00 h2.3 v4.90 h0.9 l-2.05 2.6 l-2.05 -2.6 h0.9 z" fill="#000"/>
<ellipse cx="458.1" cy="89.2" rx="31.4" ry="45.9" fill="none" stroke="#000" stroke-width="1.6"/>
<ellipse cx="447.8" cy="205.0" rx="32.0" ry="21.7" fill="none" stroke="#000" stroke-width="1.6"/>
<g font-family="&quot;Liberation Sans&quot;, Arial, sans-serif" font-size="5.7" font-weight="bold" text-anchor="end" fill="#111" stroke="#111" stroke-width="0.25">
<text x="238.8" y="42.0" textLength="2.8" lengthAdjust="spacingAndGlyphs">3</text>
<text x="238.8" y="59.6" textLength="2.3" lengthAdjust="spacingAndGlyphs">1</text>
<text x="238.8" y="78.6" textLength="6.7" lengthAdjust="spacingAndGlyphs">0.3</text>
<text x="238.8" y="95.8" textLength="6.5" lengthAdjust="spacingAndGlyphs">0.1</text>
<text x="238.8" y="115.2" textLength="9.4" lengthAdjust="spacingAndGlyphs">0.03</text>
<text x="238.8" y="133.2" textLength="9.2" lengthAdjust="spacingAndGlyphs">0.01</text>
<text x="238.8" y="150.4" textLength="2.8" lengthAdjust="spacingAndGlyphs">0</text>
<text x="238.8" y="177.8" textLength="2.8" lengthAdjust="spacingAndGlyphs">3</text>
<text x="238.8" y="195.2" textLength="2.3" lengthAdjust="spacingAndGlyphs">1</text>
<text x="238.8" y="213.9" textLength="6.7" lengthAdjust="spacingAndGlyphs">0.3</text>
<text x="238.8" y="231.4" textLength="6.5" lengthAdjust="spacingAndGlyphs">0.1</text>
<text x="238.8" y="249.4" textLength="9.4" lengthAdjust="spacingAndGlyphs">0.03</text>
<text x="238.8" y="268.8" textLength="9.2" lengthAdjust="spacingAndGlyphs">0.01</text>
<text x="238.8" y="286.4" textLength="2.8" lengthAdjust="spacingAndGlyphs">0</text>
</g>
<text transform="translate(223.5 94.65) rotate(-90)" text-anchor="middle" font-family="&quot;Liberation Sans&quot;, Arial, sans-serif" font-size="8.4" fill="#111" stroke="#111" stroke-width="0.2" textLength="76.5" lengthAdjust="spacingAndGlyphs"><tspan font-weight="bold" stroke-width="0.4">Navitoclax</tspan> (&#181;mol/L)</text>
<text transform="translate(225.0 226.30) rotate(-90)" text-anchor="middle" font-family="&quot;Liberation Sans&quot;, Arial, sans-serif" font-size="8.4" fill="#111" stroke="#111" stroke-width="0.2" textLength="76.5" lengthAdjust="spacingAndGlyphs"><tspan font-weight="bold" stroke-width="0.4">Navitoclax</tspan> (&#181;mol/L)</text>
<g font-family="&quot;Liberation Sans&quot;, Arial, sans-serif" font-size="6.2" font-weight="bold" text-anchor="middle" fill="#111" stroke="#111" stroke-width="0.15">
<text x="245.68" y="294.4">0</text>
<text x="385.37" y="293.8">0</text>
<text x="256.24" y="294.4">.02</text>
<text x="395.91" y="293.8">.02</text>
<text x="266.80" y="294.4">.05</text>
<text x="406.45" y="293.8">.05</text>
<text x="277.36" y="294.4">.14</text>
<text x="416.99" y="293.8">.14</text>
<text x="287.92" y="294.4">.41</text>
<text x="427.53" y="293.8">.41</text>
<text x="298.48" y="294.4">1.2</text>
<text x="438.07" y="293.8">1.2</text>
<text x="309.04" y="294.4">3.3</text>
<text x="448.61" y="293.8">3.3</text>
<text x="319.60" y="294.4">11</text>
<text x="459.15" y="293.8">11</text>
<text x="330.16" y="294.4">30</text>
<text x="469.69" y="293.8">30</text>
<text x="340.72" y="294.4">100</text>
<text x="480.23" y="293.8">100</text>
</g>
<text x="259.3" y="310.6" font-family="&quot;Liberation Sans&quot;, Arial, sans-serif" font-size="9.3" fill="#111" stroke="#111" stroke-width="0.15" textLength="70.3" lengthAdjust="spacingAndGlyphs"><tspan font-weight="bold" stroke="#111" stroke-width="0.3">Paclitaxel</tspan> (nmol/L)</text>
<text x="403.3" y="310.2" font-family="&quot;Liberation Sans&quot;, Arial, sans-serif" font-size="9.3" fill="#111" stroke="#111" stroke-width="0.15" textLength="69" lengthAdjust="spacingAndGlyphs"><tspan font-weight="bold" stroke="#111" stroke-width="0.3">Paclitaxel</tspan> (nmol/L)</text>
<g font-family="&quot;Liberation Sans&quot;, Arial, sans-serif" font-weight="bold" fill="#111" stroke="#111" stroke-width="0.3">
<text x="16.8" y="23.0" font-size="12.5">A</text>
<text x="219.8" y="23.0" font-size="12">B</text>
<text x="372.6" y="22.8" font-size="12">C</text>
<text x="268" y="29.7" font-size="9.8" stroke-width="0.4" textLength="52.8" lengthAdjust="spacingAndGlyphs">% Inhibition</text>
<text x="425.8" y="29.3" font-size="9.8" stroke-width="0.4" textLength="19.2" lengthAdjust="spacingAndGlyphs">Bliss</text>
<text x="35" y="28.7" font-size="9.4" textLength="32.7" lengthAdjust="spacingAndGlyphs">IGROV1</text>
<rect x="35" y="29.3" width="32.7" height="0.9" fill="#111"/>
<text x="34.4" y="176.6" font-size="9.4" textLength="36.6" lengthAdjust="spacingAndGlyphs">TOV21G</text>
<rect x="34.4" y="177.3" width="36.6" height="0.9" fill="#111"/>
</g>
<line x1="31.8" y1="32.0" x2="31.8" y2="157.8" stroke="#777" stroke-width="1.2"/>
<g font-family="&quot;Liberation Sans&quot;, Arial, sans-serif" font-size="3.9" font-weight="bold" text-anchor="end" fill="#000" stroke="#000" stroke-width="0.1">
<line x1="29.5" y1="43.40" x2="31.5" y2="43.40" stroke="#555" stroke-width="0.6"/>
<text x="28.8" y="44.70">100</text>
<line x1="29.5" y1="66.18" x2="31.5" y2="66.18" stroke="#555" stroke-width="0.6"/>
<text x="28.8" y="67.48">80</text>
<line x1="29.5" y1="88.96" x2="31.5" y2="88.96" stroke="#555" stroke-width="0.6"/>
<text x="28.8" y="90.26">60</text>
<line x1="29.5" y1="111.74" x2="31.5" y2="111.74" stroke="#555" stroke-width="0.6"/>
<text x="28.8" y="113.04">40</text>
<line x1="29.5" y1="134.52" x2="31.5" y2="134.52" stroke="#555" stroke-width="0.6"/>
<text x="28.8" y="135.82">20</text>
<line x1="29.5" y1="157.30" x2="31.5" y2="157.30" stroke="#555" stroke-width="0.6"/>
<text x="28.8" y="158.60">0</text>
</g>
<line x1="31.2" y1="157.30" x2="211" y2="157.30" stroke="#222" stroke-width="0.9"/>
<path d="M36.64 156.70v1.2M40.98 156.70v1.2M44.07 156.70v1.2M46.46 156.70v1.2M48.42 156.70v1.2M50.07 156.70v1.2M51.51 156.70v1.2M52.77 156.70v1.2M53.90 156.20v2.2M61.34 156.70v1.2M65.68 156.70v1.2M68.77 156.70v1.2M71.16 156.70v1.2M73.12 156.70v1.2M74.77 156.70v1.2M76.21 156.70v1.2M77.47 156.70v1.2M78.60 156.20v2.2M86.04 156.70v1.2M90.38 156.70v1.2M93.47 156.70v1.2M95.86 156.70v1.2M97.82 156.70v1.2M99.47 156.70v1.2M100.91 156.70v1.2M102.17 156.70v1.2M103.30 156.20v2.2M110.74 156.70v1.2M115.08 156.70v1.2M118.17 156.70v1.2M120.56 156.70v1.2M122.52 156.70v1.2M124.17 156.70v1.2M125.61 156.70v1.2M126.87 156.70v1.2M128.00 156.20v2.2M135.44 156.70v1.2M139.78 156.70v1.2M142.87 156.70v1.2M145.26 156.70v1.2M147.22 156.70v1.2M148.87 156.70v1.2M150.31 156.70v1.2M151.57 156.70v1.2M152.70 156.20v2.2M160.14 156.70v1.2M164.48 156.70v1.2M167.57 156.70v1.2M169.96 156.70v1.2M171.92 156.70v1.2M173.57 156.70v1.2M175.01 156.70v1.2M176.27 156.70v1.2M177.40 156.20v2.2M184.84 156.70v1.2M189.18 156.70v1.2M192.27 156.70v1.2M194.66 156.70v1.2M196.62 156.70v1.2M198.27 156.70v1.2M199.71 156.70v1.2M200.97 156.70v1.2M202.10 156.20v2.2M209.54 156.70v1.2" stroke="#222" stroke-width="0.5"/>
<g font-family="&quot;Liberation Sans&quot;, Arial, sans-serif" font-size="3.9" font-weight="bold" text-anchor="middle" fill="#000" stroke="#000" stroke-width="0.1">
<text x="53.90" y="161.90">0.0001</text>
<text x="78.60" y="161.90">0.001</text>
<text x="103.30" y="161.90">0.01</text>
<text x="128.00" y="161.90">0.1</text>
<text x="152.70" y="161.90">1</text>
<text x="177.40" y="161.90">10</text>
<text x="202.10" y="161.90">100</text>
</g>
<text transform="translate(20.4 84.7) rotate(-90)" text-anchor="middle" font-family="&quot;Liberation Sans&quot;, Arial, sans-serif" font-size="9" font-weight="bold" fill="#111" stroke="#111" stroke-width="0.35" textLength="47.5" lengthAdjust="spacingAndGlyphs">% Viability</text>
<line x1="31.8" y1="180.4" x2="31.8" y2="304.9" stroke="#777" stroke-width="1.2"/>
<g font-family="&quot;Liberation Sans&quot;, Arial, sans-serif" font-size="3.9" font-weight="bold" text-anchor="end" fill="#000" stroke="#000" stroke-width="0.1">
<line x1="29.5" y1="190.00" x2="31.5" y2="190.00" stroke="#555" stroke-width="0.6"/>
<text x="28.8" y="191.30">100</text>
<line x1="29.5" y1="212.88" x2="31.5" y2="212.88" stroke="#555" stroke-width="0.6"/>
<text x="28.8" y="214.18">80</text>
<line x1="29.5" y1="235.76" x2="31.5" y2="235.76" stroke="#555" stroke-width="0.6"/>
<text x="28.8" y="237.06">60</text>
<line x1="29.5" y1="258.64" x2="31.5" y2="258.64" stroke="#555" stroke-width="0.6"/>
<text x="28.8" y="259.94">40</text>
<line x1="29.5" y1="281.52" x2="31.5" y2="281.52" stroke="#555" stroke-width="0.6"/>
<text x="28.8" y="282.82">20</text>
<line x1="29.5" y1="304.40" x2="31.5" y2="304.40" stroke="#555" stroke-width="0.6"/>
<text x="28.8" y="305.70">0</text>
</g>
<line x1="31.2" y1="304.40" x2="211" y2="304.40" stroke="#222" stroke-width="0.9"/>
<path d="M36.64 303.80v1.2M40.98 303.80v1.2M44.07 303.80v1.2M46.46 303.80v1.2M48.42 303.80v1.2M50.07 303.80v1.2M51.51 303.80v1.2M52.77 303.80v1.2M53.90 303.30v2.2M61.34 303.80v1.2M65.68 303.80v1.2M68.77 303.80v1.2M71.16 303.80v1.2M73.12 303.80v1.2M74.77 303.80v1.2M76.21 303.80v1.2M77.47 303.80v1.2M78.60 303.30v2.2M86.04 303.80v1.2M90.38 303.80v1.2M93.47 303.80v1.2M95.86 303.80v1.2M97.82 303.80v1.2M99.47 303.80v1.2M100.91 303.80v1.2M102.17 303.80v1.2M103.30 303.30v2.2M110.74 303.80v1.2M115.08 303.80v1.2M118.17 303.80v1.2M120.56 303.80v1.2M122.52 303.80v1.2M124.17 303.80v1.2M125.61 303.80v1.2M126.87 303.80v1.2M128.00 303.30v2.2M135.44 303.80v1.2M139.78 303.80v1.2M142.87 303.80v1.2M145.26 303.80v1.2M147.22 303.80v1.2M148.87 303.80v1.2M150.31 303.80v1.2M151.57 303.80v1.2M152.70 303.30v2.2M160.14 303.80v1.2M164.48 303.80v1.2M167.57 303.80v1.2M169.96 303.80v1.2M171.92 303.80v1.2M173.57 303.80v1.2M175.01 303.80v1.2M176.27 303.80v1.2M177.40 303.30v2.2M184.84 303.80v1.2M189.18 303.80v1.2M192.27 303.80v1.2M194.66 303.80v1.2M196.62 303.80v1.2M198.27 303.80v1.2M199.71 303.80v1.2M200.97 303.80v1.2M202.10 303.30v2.2M209.54 303.80v1.2" stroke="#222" stroke-width="0.5"/>
<g font-family="&quot;Liberation Sans&quot;, Arial, sans-serif" font-size="3.9" font-weight="bold" text-anchor="middle" fill="#000" stroke="#000" stroke-width="0.1">
<text x="53.90" y="309.00">0.0001</text>
<text x="78.60" y="309.00">0.001</text>
<text x="103.30" y="309.00">0.01</text>
<text x="128.00" y="309.00">0.1</text>
<text x="152.70" y="309.00">1</text>
<text x="177.40" y="309.00">10</text>
<text x="202.10" y="309.00">100</text>
</g>
<text transform="translate(20.4 233.8) rotate(-90)" text-anchor="middle" font-family="&quot;Liberation Sans&quot;, Arial, sans-serif" font-size="9" font-weight="bold" fill="#111" stroke="#111" stroke-width="0.35" textLength="47.5" lengthAdjust="spacingAndGlyphs">% Viability</text>
<polyline points="39.5,40.44 40.5,40.44 41.5,40.44 42.5,40.44 43.5,40.44 44.5,40.44 45.5,40.44 46.5,40.44 47.5,40.44 48.5,40.44 49.5,40.44 50.5,40.44 51.5,40.44 52.5,40.44 53.5,40.44 54.5,40.44 55.5,40.44 56.5,40.44 57.5,40.44 58.5,40.44 59.5,40.44 60.5,40.44 61.5,40.44 62.5,40.44 63.5,40.44 64.5,40.44 65.5,40.44 66.5,40.44 67.5,40.44 68.5,40.44 69.5,40.44 70.5,40.44 71.5,40.44 72.5,40.44 73.5,40.44 74.5,40.44 75.5,40.44 76.5,40.44 77.5,40.44 78.5,40.44 79.5,40.44 80.5,40.44 81.5,40.44 82.5,40.44 83.5,40.44 84.5,40.44 85.5,40.44 86.5,40.44 87.5,40.44 88.5,40.44 89.5,40.45 90.5,40.45 91.5,40.45 92.5,40.45 93.5,40.45 94.5,40.45 95.5,40.46 96.5,40.46 97.5,40.46 98.5,40.47 99.5,40.47 100.5,40.48 101.5,40.48 102.5,40.49 103.5,40.50 104.5,40.51 105.5,40.52 106.5,40.53 107.5,40.54 108.5,40.56 109.5,40.58 110.5,40.60 111.5,40.63 112.5,40.66 113.5,40.70 114.5,40.74 115.5,40.79 116.5,40.84 117.5,40.91 118.5,40.98 119.5,41.07 120.5,41.17 121.5,41.28 122.5,41.42 123.5,41.57 124.5,41.75 125.5,41.96 126.5,42.20 127.5,42.48 128.5,42.80 129.5,43.17 130.5,43.60 131.5,44.09 132.5,44.65 133.5,45.29 134.5,46.03 135.5,46.87 136.5,47.82 137.5,48.90 138.5,50.13 139.5,51.51 140.5,53.06 141.5,54.79 142.5,56.71 143.5,58.83 144.5,61.15 145.5,63.69 146.5,66.42 147.5,69.35 148.5,72.47 149.5,75.74 150.5,79.15 151.5,82.66 152.5,86.24 153.5,89.84 154.5,93.44 155.5,96.99 156.5,100.45 157.5,103.78 158.5,106.97 159.5,109.98 160.5,112.81 161.5,115.43 162.5,117.85 163.5,120.06 164.5,122.07 165.5,123.88 166.5,125.51 167.5,126.97 168.5,128.26 169.5,129.40 170.5,130.41 171.5,131.30 172.5,132.08 173.5,132.77 174.5,133.36 175.5,133.88 176.5,134.34 177.5,134.73 178.5,135.07 179.5,135.37 180.5,135.63 181.5,135.85 182.5,136.04 183.5,136.21 184.5,136.35 185.5,136.47 186.5,136.58 187.5,136.67 188.5,136.75 189.5,136.82 190.5,136.88 191.5,136.93 192.5,136.98 193.5,137.02 194.5,137.05 195.5,137.08 196.5,137.10 197.5,137.12 198.5,137.14 199.5,137.16 200.5,137.17 201.5,137.18 202.5,137.19" fill="none" stroke="#2aa02a" stroke-width="1.30"/>
<polyline points="39.5,41.24 40.5,41.24 41.5,41.24 42.5,41.24 43.5,41.24 44.5,41.24 45.5,41.24 46.5,41.24 47.5,41.24 48.5,41.24 49.5,41.24 50.5,41.24 51.5,41.24 52.5,41.24 53.5,41.24 54.5,41.24 55.5,41.24 56.5,41.24 57.5,41.24 58.5,41.24 59.5,41.24 60.5,41.24 61.5,41.24 62.5,41.24 63.5,41.24 64.5,41.24 65.5,41.24 66.5,41.24 67.5,41.24 68.5,41.24 69.5,41.24 70.5,41.24 71.5,41.24 72.5,41.24 73.5,41.24 74.5,41.24 75.5,41.24 76.5,41.24 77.5,41.24 78.5,41.24 79.5,41.24 80.5,41.24 81.5,41.24 82.5,41.24 83.5,41.24 84.5,41.24 85.5,41.24 86.5,41.24 87.5,41.24 88.5,41.24 89.5,41.24 90.5,41.24 91.5,41.24 92.5,41.24 93.5,41.24 94.5,41.25 95.5,41.25 96.5,41.25 97.5,41.25 98.5,41.25 99.5,41.26 100.5,41.26 101.5,41.26 102.5,41.27 103.5,41.27 104.5,41.28 105.5,41.29 106.5,41.30 107.5,41.31 108.5,41.32 109.5,41.34 110.5,41.35 111.5,41.37 112.5,41.40 113.5,41.42 114.5,41.46 115.5,41.49 116.5,41.54 117.5,41.59 118.5,41.65 119.5,41.72 120.5,41.80 121.5,41.90 122.5,42.01 123.5,42.14 124.5,42.30 125.5,42.48 126.5,42.69 127.5,42.93 128.5,43.22 129.5,43.55 130.5,43.94 131.5,44.39 132.5,44.91 133.5,45.51 134.5,46.20 135.5,47.00 136.5,47.92 137.5,48.98 138.5,50.18 139.5,51.55 140.5,53.10 141.5,54.84 142.5,56.79 143.5,58.95 144.5,61.34 145.5,63.96 146.5,66.80 147.5,69.85 148.5,73.10 149.5,76.51 150.5,80.06 151.5,83.71 152.5,87.42 153.5,91.13 154.5,94.81 155.5,98.41 156.5,101.88 157.5,105.20 158.5,108.33 159.5,111.26 160.5,113.96 161.5,116.44 162.5,118.70 163.5,120.73 164.5,122.56 165.5,124.18 166.5,125.62 167.5,126.88 168.5,128.00 169.5,128.97 170.5,129.81 171.5,130.55 172.5,131.19 173.5,131.74 174.5,132.22 175.5,132.63 176.5,132.98 177.5,133.28 178.5,133.54 179.5,133.77 180.5,133.96 181.5,134.12 182.5,134.26 183.5,134.38 184.5,134.49 185.5,134.57 186.5,134.65 187.5,134.71 188.5,134.77 189.5,134.82 190.5,134.86 191.5,134.89 192.5,134.92 193.5,134.94 194.5,134.97 195.5,134.98 196.5,135.00 197.5,135.01 198.5,135.02 199.5,135.03 200.5,135.04 201.5,135.05 202.5,135.05" fill="none" stroke="#6a72e6" stroke-width="1.30"/>
<polyline points="39.5,38.84 40.5,38.84 41.5,38.84 42.5,38.84 43.5,38.84 44.5,38.84 45.5,38.84 46.5,38.84 47.5,38.84 48.5,38.84 49.5,38.84 50.5,38.84 51.5,38.84 52.5,38.84 53.5,38.84 54.5,38.84 55.5,38.84 56.5,38.84 57.5,38.84 58.5,38.84 59.5,38.84 60.5,38.84 61.5,38.84 62.5,38.84 63.5,38.84 64.5,38.84 65.5,38.84 66.5,38.84 67.5,38.84 68.5,38.84 69.5,38.84 70.5,38.84 71.5,38.84 72.5,38.84 73.5,38.84 74.5,38.84 75.5,38.84 76.5,38.85 77.5,38.85 78.5,38.85 79.5,38.85 80.5,38.85 81.5,38.85 82.5,38.85 83.5,38.85 84.5,38.85 85.5,38.85 86.5,38.85 87.5,38.85 88.5,38.85 89.5,38.85 90.5,38.85 91.5,38.85 92.5,38.86 93.5,38.86 94.5,38.86 95.5,38.86 96.5,38.86 97.5,38.87 98.5,38.87 99.5,38.88 100.5,38.88 101.5,38.89 102.5,38.89 103.5,38.90 104.5,38.91 105.5,38.92 106.5,38.93 107.5,38.95 108.5,38.96 109.5,38.98 110.5,39.01 111.5,39.03 112.5,39.06 113.5,39.10 114.5,39.14 115.5,39.18 116.5,39.24 117.5,39.30 118.5,39.37 119.5,39.46 120.5,39.56 121.5,39.67 122.5,39.80 123.5,39.95 124.5,40.13 125.5,40.33 126.5,40.57 127.5,40.84 128.5,41.15 129.5,41.51 130.5,41.93 131.5,42.41 132.5,42.95 133.5,43.58 134.5,44.30 135.5,45.12 136.5,46.05 137.5,47.11 138.5,48.31 139.5,49.66 140.5,51.17 141.5,52.86 142.5,54.73 143.5,56.80 144.5,59.07 145.5,61.54 146.5,64.22 147.5,67.08 148.5,70.12 149.5,73.31 150.5,76.64 151.5,80.07 152.5,83.56 153.5,87.09 154.5,90.60 155.5,94.06 156.5,97.44 157.5,100.70 158.5,103.81 159.5,106.75 160.5,109.51 161.5,112.07 162.5,114.43 163.5,116.59 164.5,118.55 165.5,120.33 166.5,121.91 167.5,123.33 168.5,124.60 169.5,125.72 170.5,126.70 171.5,127.57 172.5,128.33 173.5,129.00 174.5,129.58 175.5,130.09 176.5,130.53 177.5,130.92 178.5,131.25 179.5,131.54 180.5,131.79 181.5,132.01 182.5,132.20 183.5,132.36 184.5,132.50 185.5,132.62 186.5,132.72 187.5,132.82 188.5,132.89 189.5,132.96 190.5,133.02 191.5,133.07 192.5,133.11 193.5,133.15 194.5,133.18 195.5,133.21 196.5,133.23 197.5,133.25 198.5,133.27 199.5,133.29 200.5,133.30 201.5,133.31 202.5,133.32" fill="none" stroke="#b79af2" stroke-width="1.30"/>
<polyline points="39.5,44.20 40.5,44.20 41.5,44.20 42.5,44.20 43.5,44.20 44.5,44.20 45.5,44.20 46.5,44.20 47.5,44.20 48.5,44.20 49.5,44.20 50.5,44.20 51.5,44.20 52.5,44.20 53.5,44.20 54.5,44.21 55.5,44.21 56.5,44.21 57.5,44.21 58.5,44.21 59.5,44.21 60.5,44.21 61.5,44.21 62.5,44.21 63.5,44.21 64.5,44.22 65.5,44.22 66.5,44.22 67.5,44.22 68.5,44.22 69.5,44.23 70.5,44.23 71.5,44.23 72.5,44.23 73.5,44.24 74.5,44.24 75.5,44.25 76.5,44.25 77.5,44.25 78.5,44.26 79.5,44.27 80.5,44.27 81.5,44.28 82.5,44.29 83.5,44.29 84.5,44.30 85.5,44.31 86.5,44.32 87.5,44.33 88.5,44.35 89.5,44.36 90.5,44.37 91.5,44.39 92.5,44.41 93.5,44.43 94.5,44.45 95.5,44.47 96.5,44.49 97.5,44.52 98.5,44.55 99.5,44.58 100.5,44.62 101.5,44.66 102.5,44.70 103.5,44.74 104.5,44.79 105.5,44.84 106.5,44.90 107.5,44.96 108.5,45.03 109.5,45.11 110.5,45.19 111.5,45.28 112.5,45.37 113.5,45.48 114.5,45.59 115.5,45.72 116.5,45.85 117.5,46.00 118.5,46.16 119.5,46.33 120.5,46.52 121.5,46.72 122.5,46.94 123.5,47.18 124.5,47.44 125.5,47.72 126.5,48.02 127.5,48.35 128.5,48.70 129.5,49.08 130.5,49.50 131.5,49.94 132.5,50.42 133.5,50.93 134.5,51.48 135.5,52.07 136.5,52.71 137.5,53.38 138.5,54.11 139.5,54.88 140.5,55.70 141.5,56.57 142.5,57.50 143.5,58.48 144.5,59.51 145.5,60.60 146.5,61.74 147.5,62.94 148.5,64.19 149.5,65.49 150.5,66.85 151.5,68.25 152.5,69.70 153.5,71.19 154.5,72.72 155.5,74.28 156.5,75.87 157.5,77.48 158.5,79.11 159.5,80.76 160.5,82.40 161.5,84.05 162.5,85.69 163.5,87.32 164.5,88.93 165.5,90.52 166.5,92.07 167.5,93.59 168.5,95.07 169.5,96.51 170.5,97.91 171.5,99.25 172.5,100.54 173.5,101.79 174.5,102.97 175.5,104.10 176.5,105.18 177.5,106.20 178.5,107.17 179.5,108.08 180.5,108.95 181.5,109.76 182.5,110.52 183.5,111.23 184.5,111.90 185.5,112.53 186.5,113.11 187.5,113.65 188.5,114.16 189.5,114.63 190.5,115.07 191.5,115.47 192.5,115.85 193.5,116.20 194.5,116.52 195.5,116.82 196.5,117.09 197.5,117.35 198.5,117.58 199.5,117.80 200.5,118.00 201.5,118.19 202.5,118.35" fill="none" stroke="#ea6a3a" stroke-width="1.30"/>
<polyline points="39.5,43.06 40.5,43.06 41.5,43.06 42.5,43.06 43.5,43.06 44.5,43.06 45.5,43.06 46.5,43.06 47.5,43.07 48.5,43.07 49.5,43.07 50.5,43.07 51.5,43.07 52.5,43.07 53.5,43.07 54.5,43.07 55.5,43.07 56.5,43.07 57.5,43.07 58.5,43.08 59.5,43.08 60.5,43.08 61.5,43.08 62.5,43.08 63.5,43.08 64.5,43.09 65.5,43.09 66.5,43.09 67.5,43.09 68.5,43.10 69.5,43.10 70.5,43.10 71.5,43.11 72.5,43.11 73.5,43.11 74.5,43.12 75.5,43.12 76.5,43.13 77.5,43.14 78.5,43.14 79.5,43.15 80.5,43.16 81.5,43.16 82.5,43.17 83.5,43.18 84.5,43.19 85.5,43.20 86.5,43.21 87.5,43.23 88.5,43.24 89.5,43.26 90.5,43.27 91.5,43.29 92.5,43.31 93.5,43.33 94.5,43.35 95.5,43.38 96.5,43.40 97.5,43.43 98.5,43.46 99.5,43.49 100.5,43.53 101.5,43.57 102.5,43.61 103.5,43.66 104.5,43.70 105.5,43.76 106.5,43.81 107.5,43.88 108.5,43.94 109.5,44.01 110.5,44.09 111.5,44.18 112.5,44.27 113.5,44.36 114.5,44.47 115.5,44.58 116.5,44.70 117.5,44.84 118.5,44.98 119.5,45.13 120.5,45.30 121.5,45.48 122.5,45.67 123.5,45.87 124.5,46.10 125.5,46.33 126.5,46.59 127.5,46.87 128.5,47.16 129.5,47.48 130.5,47.81 131.5,48.18 132.5,48.56 133.5,48.98 134.5,49.42 135.5,49.89 136.5,50.39 137.5,50.93 138.5,51.49 139.5,52.09 140.5,52.73 141.5,53.41 142.5,54.12 143.5,54.87 144.5,55.66 145.5,56.49 146.5,57.36 147.5,58.27 148.5,59.23 149.5,60.22 150.5,61.25 151.5,62.32 152.5,63.42 153.5,64.56 154.5,65.74 155.5,66.94 156.5,68.17 157.5,69.42 158.5,70.70 159.5,72.00 160.5,73.30 161.5,74.62 162.5,75.95 163.5,77.27 164.5,78.60 165.5,79.92 166.5,81.22 167.5,82.52 168.5,83.79 169.5,85.05 170.5,86.27 171.5,87.47 172.5,88.64 173.5,89.78 174.5,90.88 175.5,91.95 176.5,92.97 177.5,93.96 178.5,94.91 179.5,95.82 180.5,96.68 181.5,97.51 182.5,98.30 183.5,99.04 184.5,99.75 185.5,100.42 186.5,101.06 187.5,101.66 188.5,102.22 189.5,102.75 190.5,103.25 191.5,103.72 192.5,104.16 193.5,104.57 194.5,104.95 195.5,105.31 196.5,105.65 197.5,105.96 198.5,106.25 199.5,106.53 200.5,106.78 201.5,107.02 202.5,107.24" fill="none" stroke="#62dcf2" stroke-width="1.30"/>
<polyline points="39.5,41.81 40.5,41.81 41.5,41.81 42.5,41.81 43.5,41.81 44.5,41.81 45.5,41.81 46.5,41.81 47.5,41.81 48.5,41.81 49.5,41.81 50.5,41.82 51.5,41.82 52.5,41.82 53.5,41.82 54.5,41.82 55.5,41.82 56.5,41.82 57.5,41.82 58.5,41.82 59.5,41.83 60.5,41.83 61.5,41.83 62.5,41.83 63.5,41.83 64.5,41.84 65.5,41.84 66.5,41.84 67.5,41.85 68.5,41.85 69.5,41.85 70.5,41.86 71.5,41.86 72.5,41.86 73.5,41.87 74.5,41.87 75.5,41.88 76.5,41.89 77.5,41.89 78.5,41.90 79.5,41.91 80.5,41.92 81.5,41.93 82.5,41.94 83.5,41.95 84.5,41.96 85.5,41.97 86.5,41.98 87.5,42.00 88.5,42.02 89.5,42.03 90.5,42.05 91.5,42.07 92.5,42.09 93.5,42.12 94.5,42.14 95.5,42.17 96.5,42.20 97.5,42.23 98.5,42.27 99.5,42.30 100.5,42.35 101.5,42.39 102.5,42.44 103.5,42.49 104.5,42.54 105.5,42.60 106.5,42.67 107.5,42.74 108.5,42.82 109.5,42.90 110.5,42.99 111.5,43.08 112.5,43.19 113.5,43.30 114.5,43.42 115.5,43.55 116.5,43.69 117.5,43.84 118.5,44.00 119.5,44.18 120.5,44.36 121.5,44.57 122.5,44.79 123.5,45.02 124.5,45.27 125.5,45.54 126.5,45.83 127.5,46.15 128.5,46.48 129.5,46.84 130.5,47.22 131.5,47.63 132.5,48.07 133.5,48.54 134.5,49.04 135.5,49.57 136.5,50.14 137.5,50.74 138.5,51.38 139.5,52.05 140.5,52.77 141.5,53.53 142.5,54.32 143.5,55.16 144.5,56.05 145.5,56.97 146.5,57.94 147.5,58.95 148.5,60.01 149.5,61.11 150.5,62.24 151.5,63.42 152.5,64.63 153.5,65.88 154.5,67.17 155.5,68.48 156.5,69.82 157.5,71.18 158.5,72.56 159.5,73.96 160.5,75.37 161.5,76.79 162.5,78.21 163.5,79.62 164.5,81.04 165.5,82.44 166.5,83.82 167.5,85.19 168.5,86.53 169.5,87.85 170.5,89.14 171.5,90.39 172.5,91.62 173.5,92.80 174.5,93.94 175.5,95.05 176.5,96.11 177.5,97.13 178.5,98.11 179.5,99.04 180.5,99.93 181.5,100.78 182.5,101.58 183.5,102.35 184.5,103.07 185.5,103.76 186.5,104.40 187.5,105.01 188.5,105.58 189.5,106.12 190.5,106.62 191.5,107.10 192.5,107.54 193.5,107.96 194.5,108.35 195.5,108.71 196.5,109.05 197.5,109.36 198.5,109.66 199.5,109.93 200.5,110.19 201.5,110.43 202.5,110.65" fill="none" stroke="#2a4cc8" stroke-width="1.30"/>
<polyline points="39.5,39.76 40.5,39.76 41.5,39.76 42.5,39.76 43.5,39.76 44.5,39.76 45.5,39.76 46.5,39.76 47.5,39.76 48.5,39.76 49.5,39.76 50.5,39.76 51.5,39.76 52.5,39.76 53.5,39.76 54.5,39.76 55.5,39.76 56.5,39.76 57.5,39.76 58.5,39.76 59.5,39.76 60.5,39.76 61.5,39.76 62.5,39.76 63.5,39.76 64.5,39.76 65.5,39.76 66.5,39.76 67.5,39.76 68.5,39.76 69.5,39.76 70.5,39.76 71.5,39.76 72.5,39.76 73.5,39.76 74.5,39.76 75.5,39.76 76.5,39.76 77.5,39.76 78.5,39.76 79.5,39.76 80.5,39.76 81.5,39.76 82.5,39.76 83.5,39.76 84.5,39.76 85.5,39.76 86.5,39.76 87.5,39.76 88.5,39.76 89.5,39.76 90.5,39.76 91.5,39.76 92.5,39.76 93.5,39.76 94.5,39.76 95.5,39.76 96.5,39.76 97.5,39.76 98.5,39.76 99.5,39.76 100.5,39.76 101.5,39.76 102.5,39.76 103.5,39.76 104.5,39.77 105.5,39.77 106.5,39.77 107.5,39.77 108.5,39.78 109.5,39.78 110.5,39.79 111.5,39.79 112.5,39.80 113.5,39.81 114.5,39.82 115.5,39.84 116.5,39.85 117.5,39.87 118.5,39.90 119.5,39.93 120.5,39.96 121.5,40.01 122.5,40.06 123.5,40.12 124.5,40.19 125.5,40.28 126.5,40.39 127.5,40.52 128.5,40.67 129.5,40.86 130.5,41.08 131.5,41.35 132.5,41.67 133.5,42.05 134.5,42.50 135.5,43.04 136.5,43.69 137.5,44.45 138.5,45.35 139.5,46.40 140.5,47.64 141.5,49.07 142.5,50.73 143.5,52.64 144.5,54.81 145.5,57.26 146.5,59.99 147.5,62.99 148.5,66.26 149.5,69.77 150.5,73.47 151.5,77.30 152.5,81.22 153.5,85.16 154.5,89.04 155.5,92.80 156.5,96.39 157.5,99.75 158.5,102.87 159.5,105.71 160.5,108.27 161.5,110.55 162.5,112.56 163.5,114.31 164.5,115.84 165.5,117.15 166.5,118.28 167.5,119.24 168.5,120.05 169.5,120.74 170.5,121.32 171.5,121.80 172.5,122.21 173.5,122.56 174.5,122.84 175.5,123.08 176.5,123.28 177.5,123.45 178.5,123.59 179.5,123.70 180.5,123.80 181.5,123.88 182.5,123.94 183.5,124.00 184.5,124.04 185.5,124.08 186.5,124.11 187.5,124.14 188.5,124.16 189.5,124.18 190.5,124.20 191.5,124.21 192.5,124.22 193.5,124.23 194.5,124.23 195.5,124.24 196.5,124.24 197.5,124.25 198.5,124.25 199.5,124.26 200.5,124.26 201.5,124.26 202.5,124.26" fill="none" stroke="#9a48ee" stroke-width="1.30"/>
<polyline points="39.5,41.01 40.5,41.01 41.5,41.01 42.5,41.01 43.5,41.01 44.5,41.01 45.5,41.01 46.5,41.01 47.5,41.01 48.5,41.01 49.5,41.01 50.5,41.01 51.5,41.01 52.5,41.01 53.5,41.01 54.5,41.01 55.5,41.01 56.5,41.01 57.5,41.01 58.5,41.01 59.5,41.01 60.5,41.01 61.5,41.01 62.5,41.01 63.5,41.01 64.5,41.01 65.5,41.01 66.5,41.01 67.5,41.01 68.5,41.02 69.5,41.02 70.5,41.02 71.5,41.02 72.5,41.02 73.5,41.02 74.5,41.02 75.5,41.02 76.5,41.03 77.5,41.03 78.5,41.03 79.5,41.03 80.5,41.04 81.5,41.04 82.5,41.04 83.5,41.05 84.5,41.05 85.5,41.06 86.5,41.06 87.5,41.07 88.5,41.07 89.5,41.08 90.5,41.09 91.5,41.10 92.5,41.11 93.5,41.12 94.5,41.13 95.5,41.15 96.5,41.16 97.5,41.18 98.5,41.20 99.5,41.22 100.5,41.24 101.5,41.27 102.5,41.30 103.5,41.33 104.5,41.37 105.5,41.41 106.5,41.45 107.5,41.50 108.5,41.56 109.5,41.62 110.5,41.69 111.5,41.77 112.5,41.85 113.5,41.95 114.5,42.05 115.5,42.17 116.5,42.30 117.5,42.44 118.5,42.60 119.5,42.78 120.5,42.97 121.5,43.19 122.5,43.43 123.5,43.70 124.5,43.99 125.5,44.31 126.5,44.67 127.5,45.06 128.5,45.50 129.5,45.98 130.5,46.50 131.5,47.08 132.5,47.71 133.5,48.40 134.5,49.15 135.5,49.98 136.5,50.87 137.5,51.84 138.5,52.89 139.5,54.02 140.5,55.24 141.5,56.55 142.5,57.95 143.5,59.44 144.5,61.03 145.5,62.70 146.5,64.46 147.5,66.30 148.5,68.23 149.5,70.22 150.5,72.28 151.5,74.40 152.5,76.55 153.5,78.75 154.5,80.96 155.5,83.18 156.5,85.40 157.5,87.60 158.5,89.77 159.5,91.90 160.5,93.98 161.5,96.00 162.5,97.95 163.5,99.82 164.5,101.61 165.5,103.32 166.5,104.93 167.5,106.46 168.5,107.89 169.5,109.23 170.5,110.48 171.5,111.65 172.5,112.73 173.5,113.73 174.5,114.65 175.5,115.49 176.5,116.27 177.5,116.99 178.5,117.64 179.5,118.23 180.5,118.78 181.5,119.27 182.5,119.72 183.5,120.13 184.5,120.50 185.5,120.83 186.5,121.14 187.5,121.41 188.5,121.66 189.5,121.89 190.5,122.09 191.5,122.27 192.5,122.44 193.5,122.59 194.5,122.72 195.5,122.84 196.5,122.95 197.5,123.05 198.5,123.14 199.5,123.22 200.5,123.29 201.5,123.35 202.5,123.41" fill="none" stroke="#26168f" stroke-width="1.30"/>
<polyline points="39.5,197.66 40.5,197.66 41.5,197.66 42.5,197.66 43.5,197.66 44.5,197.66 45.5,197.66 46.5,197.66 47.5,197.66 48.5,197.66 49.5,197.66 50.5,197.66 51.5,197.66 52.5,197.66 53.5,197.66 54.5,197.66 55.5,197.66 56.5,197.66 57.5,197.66 58.5,197.66 59.5,197.66 60.5,197.66 61.5,197.66 62.5,197.66 63.5,197.66 64.5,197.66 65.5,197.66 66.5,197.66 67.5,197.66 68.5,197.66 69.5,197.66 70.5,197.66 71.5,197.66 72.5,197.66 73.5,197.66 74.5,197.66 75.5,197.66 76.5,197.66 77.5,197.66 78.5,197.66 79.5,197.66 80.5,197.66 81.5,197.66 82.5,197.66 83.5,197.66 84.5,197.66 85.5,197.66 86.5,197.66 87.5,197.66 88.5,197.67 89.5,197.67 90.5,197.67 91.5,197.67 92.5,197.67 93.5,197.67 94.5,197.67 95.5,197.67 96.5,197.67 97.5,197.67 98.5,197.67 99.5,197.67 100.5,197.67 101.5,197.67 102.5,197.67 103.5,197.67 104.5,197.67 105.5,197.67 106.5,197.67 107.5,197.67 108.5,197.67 109.5,197.68 110.5,197.68 111.5,197.68 112.5,197.68 113.5,197.69 114.5,197.69 115.5,197.70 116.5,197.71 117.5,197.72 118.5,197.73 119.5,197.74 120.5,197.75 121.5,197.77 122.5,197.79 123.5,197.82 124.5,197.85 125.5,197.89 126.5,197.94 127.5,197.99 128.5,198.06 129.5,198.14 130.5,198.24 131.5,198.35 132.5,198.49 133.5,198.66 134.5,198.86 135.5,199.10 136.5,199.38 137.5,199.73 138.5,200.14 139.5,200.62 140.5,201.20 141.5,201.89 142.5,202.69 143.5,203.64 144.5,204.75 145.5,206.05 146.5,207.54 147.5,209.26 148.5,211.21 149.5,213.41 150.5,215.86 151.5,218.56 152.5,221.50 153.5,224.65 154.5,227.97 155.5,231.41 156.5,234.93 157.5,238.46 158.5,241.94 159.5,245.32 160.5,248.53 161.5,251.55 162.5,254.34 163.5,256.89 164.5,259.18 165.5,261.22 166.5,263.03 167.5,264.60 168.5,265.96 169.5,267.14 170.5,268.15 171.5,269.01 172.5,269.73 173.5,270.35 174.5,270.87 175.5,271.31 176.5,271.67 177.5,271.98 178.5,272.23 179.5,272.45 180.5,272.63 181.5,272.78 182.5,272.90 183.5,273.00 184.5,273.09 185.5,273.16 186.5,273.22 187.5,273.27 188.5,273.31 189.5,273.35 190.5,273.37 191.5,273.40 192.5,273.42 193.5,273.43 194.5,273.45 195.5,273.46 196.5,273.47 197.5,273.47 198.5,273.48 199.5,273.49 200.5,273.49 201.5,273.49 202.5,273.50" fill="none" stroke="#aaa4dc" stroke-width="1.15"/>
<polyline points="39.5,193.66 40.5,193.66 41.5,193.66 42.5,193.66 43.5,193.66 44.5,193.66 45.5,193.66 46.5,193.66 47.5,193.66 48.5,193.66 49.5,193.66 50.5,193.66 51.5,193.66 52.5,193.66 53.5,193.66 54.5,193.66 55.5,193.66 56.5,193.66 57.5,193.66 58.5,193.66 59.5,193.66 60.5,193.66 61.5,193.66 62.5,193.66 63.5,193.66 64.5,193.66 65.5,193.66 66.5,193.66 67.5,193.66 68.5,193.66 69.5,193.66 70.5,193.66 71.5,193.66 72.5,193.66 73.5,193.66 74.5,193.66 75.5,193.66 76.5,193.66 77.5,193.66 78.5,193.66 79.5,193.66 80.5,193.66 81.5,193.66 82.5,193.66 83.5,193.66 84.5,193.66 85.5,193.66 86.5,193.66 87.5,193.66 88.5,193.66 89.5,193.66 90.5,193.66 91.5,193.66 92.5,193.66 93.5,193.66 94.5,193.66 95.5,193.66 96.5,193.66 97.5,193.66 98.5,193.66 99.5,193.66 100.5,193.66 101.5,193.66 102.5,193.66 103.5,193.66 104.5,193.66 105.5,193.66 106.5,193.66 107.5,193.66 108.5,193.67 109.5,193.67 110.5,193.67 111.5,193.67 112.5,193.67 113.5,193.67 114.5,193.68 115.5,193.68 116.5,193.68 117.5,193.69 118.5,193.70 119.5,193.70 120.5,193.71 121.5,193.73 122.5,193.74 123.5,193.76 124.5,193.78 125.5,193.81 126.5,193.84 127.5,193.89 128.5,193.94 129.5,194.00 130.5,194.07 131.5,194.17 132.5,194.28 133.5,194.42 134.5,194.59 135.5,194.80 136.5,195.06 137.5,195.37 138.5,195.75 139.5,196.21 140.5,196.76 141.5,197.44 142.5,198.24 143.5,199.21 144.5,200.36 145.5,201.73 146.5,203.33 147.5,205.20 148.5,207.36 149.5,209.82 150.5,212.58 151.5,215.65 152.5,219.00 153.5,222.58 154.5,226.35 155.5,230.23 156.5,234.14 157.5,238.01 158.5,241.75 159.5,245.30 160.5,248.61 161.5,251.63 162.5,254.34 163.5,256.75 164.5,258.86 165.5,260.69 166.5,262.25 167.5,263.58 168.5,264.70 169.5,265.64 170.5,266.42 171.5,267.07 172.5,267.61 173.5,268.06 174.5,268.43 175.5,268.73 176.5,268.97 177.5,269.18 178.5,269.34 179.5,269.48 180.5,269.59 181.5,269.68 182.5,269.75 183.5,269.81 184.5,269.86 185.5,269.90 186.5,269.94 187.5,269.96 188.5,269.98 189.5,270.00 190.5,270.02 191.5,270.03 192.5,270.04 193.5,270.05 194.5,270.05 195.5,270.06 196.5,270.06 197.5,270.06 198.5,270.07 199.5,270.07 200.5,270.07 201.5,270.07 202.5,270.07" fill="none" stroke="#c49af2" stroke-width="1.15"/>
<polyline points="39.5,192.86 40.5,192.86 41.5,192.86 42.5,192.86 43.5,192.86 44.5,192.86 45.5,192.86 46.5,192.86 47.5,192.86 48.5,192.86 49.5,192.86 50.5,192.86 51.5,192.86 52.5,192.86 53.5,192.86 54.5,192.86 55.5,192.86 56.5,192.86 57.5,192.86 58.5,192.86 59.5,192.86 60.5,192.86 61.5,192.86 62.5,192.86 63.5,192.86 64.5,192.86 65.5,192.86 66.5,192.86 67.5,192.86 68.5,192.86 69.5,192.86 70.5,192.86 71.5,192.86 72.5,192.86 73.5,192.86 74.5,192.86 75.5,192.86 76.5,192.86 77.5,192.86 78.5,192.86 79.5,192.86 80.5,192.86 81.5,192.86 82.5,192.86 83.5,192.86 84.5,192.86 85.5,192.86 86.5,192.86 87.5,192.86 88.5,192.86 89.5,192.86 90.5,192.86 91.5,192.86 92.5,192.86 93.5,192.86 94.5,192.86 95.5,192.86 96.5,192.86 97.5,192.86 98.5,192.86 99.5,192.86 100.5,192.87 101.5,192.87 102.5,192.87 103.5,192.87 104.5,192.87 105.5,192.87 106.5,192.87 107.5,192.88 108.5,192.88 109.5,192.88 110.5,192.89 111.5,192.89 112.5,192.90 113.5,192.90 114.5,192.91 115.5,192.92 116.5,192.93 117.5,192.94 118.5,192.96 119.5,192.97 120.5,192.99 121.5,193.02 122.5,193.04 123.5,193.08 124.5,193.11 125.5,193.16 126.5,193.21 127.5,193.27 128.5,193.34 129.5,193.42 130.5,193.51 131.5,193.62 132.5,193.75 133.5,193.90 134.5,194.08 135.5,194.29 136.5,194.53 137.5,194.81 138.5,195.13 139.5,195.51 140.5,195.94 141.5,196.45 142.5,197.03 143.5,197.71 144.5,198.48 145.5,199.36 146.5,200.37 147.5,201.52 148.5,202.82 149.5,204.28 150.5,205.92 151.5,207.73 152.5,209.74 153.5,211.93 154.5,214.31 155.5,216.86 156.5,219.58 157.5,222.43 158.5,225.40 159.5,228.45 160.5,231.55 161.5,234.65 162.5,237.72 163.5,240.72 164.5,243.61 165.5,246.38 166.5,248.98 167.5,251.42 168.5,253.67 169.5,255.74 170.5,257.61 171.5,259.30 172.5,260.82 173.5,262.17 174.5,263.36 175.5,264.41 176.5,265.34 177.5,266.14 178.5,266.85 179.5,267.46 180.5,267.99 181.5,268.44 182.5,268.84 183.5,269.18 184.5,269.47 185.5,269.72 186.5,269.94 187.5,270.13 188.5,270.28 189.5,270.42 190.5,270.54 191.5,270.64 192.5,270.72 193.5,270.80 194.5,270.86 195.5,270.91 196.5,270.96 197.5,271.00 198.5,271.03 199.5,271.06 200.5,271.08 201.5,271.10 202.5,271.12" fill="none" stroke="#ea6a3a" stroke-width="1.15"/>
<polyline points="39.5,190.92 40.5,190.92 41.5,190.92 42.5,190.92 43.5,190.92 44.5,190.92 45.5,190.92 46.5,190.92 47.5,190.92 48.5,190.92 49.5,190.92 50.5,190.92 51.5,190.92 52.5,190.92 53.5,190.92 54.5,190.92 55.5,190.92 56.5,190.92 57.5,190.92 58.5,190.92 59.5,190.92 60.5,190.92 61.5,190.92 62.5,190.92 63.5,190.92 64.5,190.92 65.5,190.92 66.5,190.92 67.5,190.92 68.5,190.92 69.5,190.92 70.5,190.92 71.5,190.92 72.5,190.92 73.5,190.92 74.5,190.92 75.5,190.92 76.5,190.92 77.5,190.92 78.5,190.92 79.5,190.92 80.5,190.92 81.5,190.92 82.5,190.92 83.5,190.92 84.5,190.92 85.5,190.92 86.5,190.92 87.5,190.92 88.5,190.92 89.5,190.92 90.5,190.92 91.5,190.92 92.5,190.92 93.5,190.92 94.5,190.92 95.5,190.92 96.5,190.92 97.5,190.92 98.5,190.92 99.5,190.92 100.5,190.92 101.5,190.92 102.5,190.92 103.5,190.92 104.5,190.92 105.5,190.92 106.5,190.92 107.5,190.92 108.5,190.92 109.5,190.92 110.5,190.92 111.5,190.92 112.5,190.92 113.5,190.93 114.5,190.93 115.5,190.93 116.5,190.93 117.5,190.94 118.5,190.94 119.5,190.95 120.5,190.96 121.5,190.97 122.5,190.98 123.5,191.00 124.5,191.02 125.5,191.04 126.5,191.07 127.5,191.10 128.5,191.14 129.5,191.20 130.5,191.26 131.5,191.34 132.5,191.43 133.5,191.55 134.5,191.70 135.5,191.87 136.5,192.08 137.5,192.35 138.5,192.67 139.5,193.05 140.5,193.52 141.5,194.09 142.5,194.78 143.5,195.61 144.5,196.60 145.5,197.79 146.5,199.19 147.5,200.84 148.5,202.77 149.5,205.00 150.5,207.54 151.5,210.40 152.5,213.59 153.5,217.07 154.5,220.80 155.5,224.74 156.5,228.81 157.5,232.92 158.5,237.00 159.5,240.95 160.5,244.71 161.5,248.22 162.5,251.44 163.5,254.33 164.5,256.91 165.5,259.16 166.5,261.12 167.5,262.79 168.5,264.22 169.5,265.43 170.5,266.44 171.5,267.28 172.5,267.98 173.5,268.56 174.5,269.04 175.5,269.44 176.5,269.76 177.5,270.03 178.5,270.25 179.5,270.43 180.5,270.57 181.5,270.69 182.5,270.79 183.5,270.87 184.5,270.94 185.5,270.99 186.5,271.03 187.5,271.07 188.5,271.10 189.5,271.12 190.5,271.14 191.5,271.16 192.5,271.17 193.5,271.18 194.5,271.19 195.5,271.19 196.5,271.20 197.5,271.20 198.5,271.21 199.5,271.21 200.5,271.21 201.5,271.22 202.5,271.22" fill="none" stroke="#2aa02a" stroke-width="1.15"/>
<polyline points="39.5,190.57 40.5,190.57 41.5,190.57 42.5,190.57 43.5,190.57 44.5,190.57 45.5,190.57 46.5,190.57 47.5,190.57 48.5,190.57 49.5,190.57 50.5,190.57 51.5,190.57 52.5,190.57 53.5,190.57 54.5,190.57 55.5,190.57 56.5,190.57 57.5,190.57 58.5,190.57 59.5,190.57 60.5,190.57 61.5,190.57 62.5,190.57 63.5,190.57 64.5,190.57 65.5,190.57 66.5,190.57 67.5,190.57 68.5,190.57 69.5,190.57 70.5,190.57 71.5,190.57 72.5,190.57 73.5,190.57 74.5,190.57 75.5,190.57 76.5,190.57 77.5,190.57 78.5,190.57 79.5,190.57 80.5,190.57 81.5,190.57 82.5,190.57 83.5,190.57 84.5,190.57 85.5,190.57 86.5,190.57 87.5,190.57 88.5,190.57 89.5,190.57 90.5,190.57 91.5,190.57 92.5,190.57 93.5,190.57 94.5,190.57 95.5,190.57 96.5,190.57 97.5,190.57 98.5,190.57 99.5,190.57 100.5,190.57 101.5,190.57 102.5,190.58 103.5,190.58 104.5,190.58 105.5,190.58 106.5,190.58 107.5,190.58 108.5,190.58 109.5,190.58 110.5,190.59 111.5,190.59 112.5,190.59 113.5,190.60 114.5,190.60 115.5,190.61 116.5,190.62 117.5,190.62 118.5,190.64 119.5,190.65 120.5,190.66 121.5,190.68 122.5,190.71 123.5,190.73 124.5,190.77 125.5,190.81 126.5,190.85 127.5,190.91 128.5,190.98 129.5,191.06 130.5,191.16 131.5,191.28 132.5,191.43 133.5,191.60 134.5,191.80 135.5,192.05 136.5,192.35 137.5,192.70 138.5,193.13 139.5,193.63 140.5,194.23 141.5,194.93 142.5,195.77 143.5,196.75 144.5,197.90 145.5,199.23 146.5,200.78 147.5,202.55 148.5,204.56 149.5,206.84 150.5,209.37 151.5,212.16 152.5,215.20 153.5,218.45 154.5,221.88 155.5,225.44 156.5,229.08 157.5,232.72 158.5,236.32 159.5,239.80 160.5,243.13 161.5,246.25 162.5,249.13 163.5,251.76 164.5,254.13 165.5,256.24 166.5,258.10 167.5,259.73 168.5,261.14 169.5,262.35 170.5,263.39 171.5,264.28 172.5,265.03 173.5,265.67 174.5,266.21 175.5,266.66 176.5,267.03 177.5,267.35 178.5,267.62 179.5,267.84 180.5,268.02 181.5,268.18 182.5,268.30 183.5,268.41 184.5,268.50 185.5,268.57 186.5,268.64 187.5,268.69 188.5,268.73 189.5,268.76 190.5,268.79 191.5,268.82 192.5,268.84 193.5,268.85 194.5,268.87 195.5,268.88 196.5,268.89 197.5,268.90 198.5,268.90 199.5,268.91 200.5,268.91 201.5,268.92 202.5,268.92" fill="none" stroke="#62c8ea" stroke-width="1.15"/>
<polyline points="39.5,193.89 40.5,193.89 41.5,193.89 42.5,193.89 43.5,193.89 44.5,193.89 45.5,193.89 46.5,193.89 47.5,193.89 48.5,193.89 49.5,193.89 50.5,193.89 51.5,193.89 52.5,193.89 53.5,193.89 54.5,193.89 55.5,193.89 56.5,193.89 57.5,193.89 58.5,193.89 59.5,193.89 60.5,193.89 61.5,193.89 62.5,193.89 63.5,193.89 64.5,193.89 65.5,193.89 66.5,193.89 67.5,193.89 68.5,193.89 69.5,193.89 70.5,193.89 71.5,193.89 72.5,193.89 73.5,193.89 74.5,193.89 75.5,193.89 76.5,193.89 77.5,193.89 78.5,193.89 79.5,193.89 80.5,193.89 81.5,193.89 82.5,193.89 83.5,193.89 84.5,193.89 85.5,193.89 86.5,193.89 87.5,193.89 88.5,193.89 89.5,193.89 90.5,193.89 91.5,193.89 92.5,193.89 93.5,193.89 94.5,193.89 95.5,193.89 96.5,193.89 97.5,193.89 98.5,193.89 99.5,193.89 100.5,193.89 101.5,193.89 102.5,193.89 103.5,193.89 104.5,193.89 105.5,193.89 106.5,193.89 107.5,193.89 108.5,193.89 109.5,193.90 110.5,193.90 111.5,193.90 112.5,193.90 113.5,193.90 114.5,193.91 115.5,193.91 116.5,193.91 117.5,193.92 118.5,193.93 119.5,193.93 120.5,193.94 121.5,193.96 122.5,193.97 123.5,193.99 124.5,194.01 125.5,194.04 126.5,194.08 127.5,194.12 128.5,194.17 129.5,194.24 130.5,194.31 131.5,194.41 132.5,194.53 133.5,194.67 134.5,194.85 135.5,195.06 136.5,195.33 137.5,195.64 138.5,196.03 139.5,196.51 140.5,197.08 141.5,197.77 142.5,198.60 143.5,199.59 144.5,200.77 145.5,202.17 146.5,203.82 147.5,205.74 148.5,207.95 149.5,210.48 150.5,213.32 151.5,216.47 152.5,219.91 153.5,223.59 154.5,227.46 155.5,231.44 156.5,235.46 157.5,239.43 158.5,243.28 159.5,246.92 160.5,250.31 161.5,253.42 162.5,256.21 163.5,258.68 164.5,260.85 165.5,262.72 166.5,264.33 167.5,265.69 168.5,266.84 169.5,267.81 170.5,268.61 171.5,269.28 172.5,269.83 173.5,270.29 174.5,270.67 175.5,270.98 176.5,271.23 177.5,271.44 178.5,271.61 179.5,271.75 180.5,271.86 181.5,271.96 182.5,272.03 183.5,272.09 184.5,272.15 185.5,272.19 186.5,272.22 187.5,272.25 188.5,272.27 189.5,272.29 190.5,272.30 191.5,272.31 192.5,272.32 193.5,272.33 194.5,272.34 195.5,272.34 196.5,272.35 197.5,272.35 198.5,272.36 199.5,272.36 200.5,272.36 201.5,272.36 202.5,272.36" fill="none" stroke="#26168f" stroke-width="1.15"/>
<polyline points="39.5,193.43 40.5,193.43 41.5,193.43 42.5,193.43 43.5,193.43 44.5,193.43 45.5,193.43 46.5,193.43 47.5,193.43 48.5,193.43 49.5,193.43 50.5,193.43 51.5,193.43 52.5,193.43 53.5,193.43 54.5,193.43 55.5,193.43 56.5,193.43 57.5,193.43 58.5,193.43 59.5,193.43 60.5,193.43 61.5,193.43 62.5,193.43 63.5,193.43 64.5,193.43 65.5,193.43 66.5,193.43 67.5,193.43 68.5,193.43 69.5,193.43 70.5,193.43 71.5,193.43 72.5,193.43 73.5,193.43 74.5,193.43 75.5,193.43 76.5,193.43 77.5,193.43 78.5,193.43 79.5,193.43 80.5,193.43 81.5,193.43 82.5,193.43 83.5,193.43 84.5,193.43 85.5,193.43 86.5,193.43 87.5,193.43 88.5,193.43 89.5,193.43 90.5,193.43 91.5,193.43 92.5,193.43 93.5,193.43 94.5,193.43 95.5,193.43 96.5,193.43 97.5,193.43 98.5,193.43 99.5,193.43 100.5,193.43 101.5,193.43 102.5,193.43 103.5,193.43 104.5,193.44 105.5,193.44 106.5,193.44 107.5,193.44 108.5,193.44 109.5,193.44 110.5,193.44 111.5,193.45 112.5,193.45 113.5,193.45 114.5,193.46 115.5,193.46 116.5,193.47 117.5,193.48 118.5,193.49 119.5,193.50 120.5,193.51 121.5,193.53 122.5,193.55 123.5,193.58 124.5,193.61 125.5,193.65 126.5,193.69 127.5,193.75 128.5,193.82 129.5,193.90 130.5,194.00 131.5,194.12 132.5,194.27 133.5,194.45 134.5,194.66 135.5,194.92 136.5,195.24 137.5,195.62 138.5,196.07 139.5,196.62 140.5,197.28 141.5,198.06 142.5,198.99 143.5,200.09 144.5,201.39 145.5,202.90 146.5,204.66 147.5,206.68 148.5,208.98 149.5,211.57 150.5,214.45 151.5,217.60 152.5,221.00 153.5,224.61 154.5,228.37 155.5,232.21 156.5,236.07 157.5,239.86 158.5,243.53 159.5,247.01 160.5,250.26 161.5,253.24 162.5,255.93 163.5,258.33 164.5,260.45 165.5,262.30 166.5,263.90 167.5,265.27 168.5,266.44 169.5,267.42 170.5,268.26 171.5,268.96 172.5,269.54 173.5,270.03 174.5,270.43 175.5,270.77 176.5,271.05 177.5,271.28 178.5,271.47 179.5,271.63 180.5,271.76 181.5,271.87 182.5,271.96 183.5,272.03 184.5,272.09 185.5,272.14 186.5,272.18 187.5,272.21 188.5,272.24 189.5,272.26 190.5,272.28 191.5,272.30 192.5,272.31 193.5,272.32 194.5,272.33 195.5,272.34 196.5,272.34 197.5,272.35 198.5,272.35 199.5,272.35 200.5,272.36 201.5,272.36 202.5,272.36" fill="none" stroke="#3048e0" stroke-width="1.15"/>
<polyline points="39.5,193.55 40.5,193.55 41.5,193.55 42.5,193.55 43.5,193.55 44.5,193.55 45.5,193.55 46.5,193.55 47.5,193.55 48.5,193.55 49.5,193.55 50.5,193.55 51.5,193.55 52.5,193.55 53.5,193.55 54.5,193.55 55.5,193.55 56.5,193.55 57.5,193.55 58.5,193.55 59.5,193.55 60.5,193.55 61.5,193.55 62.5,193.55 63.5,193.55 64.5,193.55 65.5,193.55 66.5,193.55 67.5,193.55 68.5,193.55 69.5,193.55 70.5,193.55 71.5,193.55 72.5,193.55 73.5,193.55 74.5,193.55 75.5,193.55 76.5,193.55 77.5,193.55 78.5,193.55 79.5,193.55 80.5,193.55 81.5,193.55 82.5,193.55 83.5,193.55 84.5,193.55 85.5,193.55 86.5,193.55 87.5,193.55 88.5,193.55 89.5,193.55 90.5,193.55 91.5,193.55 92.5,193.55 93.5,193.55 94.5,193.55 95.5,193.55 96.5,193.55 97.5,193.55 98.5,193.55 99.5,193.55 100.5,193.55 101.5,193.55 102.5,193.55 103.5,193.55 104.5,193.55 105.5,193.55 106.5,193.55 107.5,193.55 108.5,193.55 109.5,193.55 110.5,193.56 111.5,193.56 112.5,193.56 113.5,193.56 114.5,193.57 115.5,193.57 116.5,193.58 117.5,193.59 118.5,193.59 119.5,193.61 120.5,193.62 121.5,193.63 122.5,193.65 123.5,193.68 124.5,193.70 125.5,193.74 126.5,193.78 127.5,193.83 128.5,193.89 129.5,193.96 130.5,194.05 131.5,194.16 132.5,194.29 133.5,194.45 134.5,194.64 135.5,194.88 136.5,195.16 137.5,195.50 138.5,195.90 139.5,196.40 140.5,196.98 141.5,197.69 142.5,198.53 143.5,199.52 144.5,200.69 145.5,202.06 146.5,203.66 147.5,205.51 148.5,207.63 149.5,210.02 150.5,212.70 151.5,215.66 152.5,218.87 153.5,222.30 154.5,225.91 155.5,229.63 156.5,233.40 157.5,237.15 158.5,240.80 159.5,244.29 160.5,247.57 161.5,250.61 162.5,253.38 163.5,255.86 164.5,258.06 165.5,259.99 166.5,261.66 167.5,263.10 168.5,264.34 169.5,265.38 170.5,266.27 171.5,267.01 172.5,267.63 173.5,268.15 174.5,268.58 175.5,268.94 176.5,269.24 177.5,269.49 178.5,269.69 179.5,269.86 180.5,270.00 181.5,270.12 182.5,270.21 183.5,270.29 184.5,270.35 185.5,270.41 186.5,270.45 187.5,270.49 188.5,270.52 189.5,270.54 190.5,270.56 191.5,270.58 192.5,270.59 193.5,270.60 194.5,270.61 195.5,270.62 196.5,270.62 197.5,270.63 198.5,270.63 199.5,270.64 200.5,270.64 201.5,270.64 202.5,270.64" fill="none" stroke="#7a2ac8" stroke-width="1.90"/>
<g font-family="&quot;Liberation Sans&quot;, Arial, sans-serif" fill="#111" stroke="#111" stroke-width="0.22">
<text x="174.4" y="67.6" font-size="7" font-weight="bold" textLength="29.3" lengthAdjust="spacingAndGlyphs">Paclitaxel</text>
<text x="121.2" y="143.5" font-size="6.8" font-weight="bold" textLength="34" lengthAdjust="spacingAndGlyphs">Paclitaxel +</text>
<text x="121.2" y="151.8" font-size="6.8" textLength="65.3" lengthAdjust="spacingAndGlyphs"><tspan font-weight="bold">Navitoclax</tspan> (1 &#181;mol/L)</text>
<text x="81.9" y="321.2" font-size="9.5" stroke-width="0.32" textLength="73.2" lengthAdjust="spacingAndGlyphs"><tspan font-weight="bold" stroke-width="0.38">Paclitaxel</tspan> (nmol/L)</text>
</g>
<line x1="191.6" y1="69.5" x2="187.6" y2="98.5" stroke="#111" stroke-width="1"/>
<path d="M185.6 97.6 L187.1 102.3 L189.4 98.1 Z" fill="#111"/>
<line x1="156.8" y1="144.2" x2="192" y2="136.6" stroke="#111" stroke-width="1"/>
<rect x="0" y="0" width="520" height="1" fill="#555"/>
<rect x="0" y="0" width="1" height="333" fill="#555"/>
<rect x="518" y="0" width="1" height="333" fill="#bbb"/>
<rect x="519" y="0" width="1" height="333" fill="#666"/>
<rect x="0" y="331" width="520" height="1" fill="#bbb"/>
<rect x="0" y="332" width="520" height="1" fill="#666"/>
</svg></body></html>
